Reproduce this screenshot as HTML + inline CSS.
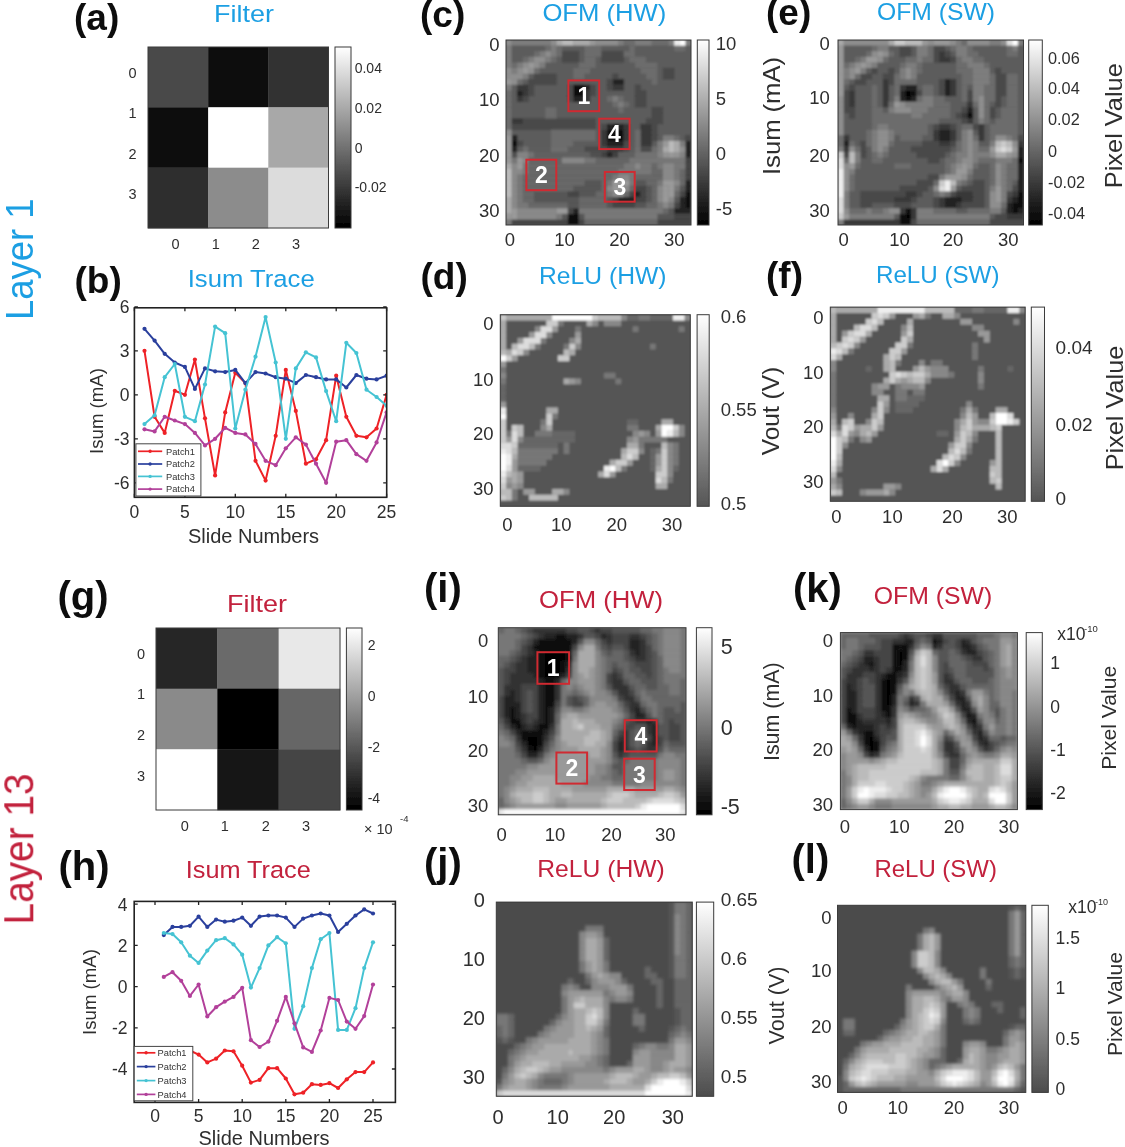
<!DOCTYPE html><html><head><meta charset="utf-8"><title>Figure</title><style>html,body{margin:0;padding:0;background:#fff}svg{display:block}text{font-family:"Liberation Sans",sans-serif}</style></head><body>
<svg width="1125" height="1147" viewBox="0 0 1125 1147">
<rect width="1125" height="1147" fill="#fff"/>
<g filter="url(#soft)">
<filter id="soft" x="0" y="0" width="1125" height="1147" filterUnits="userSpaceOnUse"><feGaussianBlur stdDeviation="0.45"/></filter>
<text x="32.5" y="320" font-size="39.5" fill="#1c9fe3" transform="rotate(-90 32.5 320)" textLength="121.5" lengthAdjust="spacingAndGlyphs">Layer 1</text>
<text x="32.8" y="924.5" font-size="43" fill="#c2203c" transform="rotate(-90 32.8 924.5)" textLength="151" lengthAdjust="spacingAndGlyphs">Layer 13</text>
<text x="74" y="30" font-size="37" fill="#111" font-weight="bold">(a)</text>
<text x="74.5" y="293" font-size="37" fill="#111" font-weight="bold">(b)</text>
<text x="420" y="26.5" font-size="37" fill="#111" font-weight="bold">(c)</text>
<text x="420.5" y="289" font-size="37" fill="#111" font-weight="bold">(d)</text>
<text x="766" y="25" font-size="37" fill="#111" font-weight="bold">(e)</text>
<text x="766" y="287.5" font-size="37" fill="#111" font-weight="bold">(f)</text>
<text x="57.5" y="610" font-size="40" fill="#111" font-weight="bold">(g)</text>
<text x="58.5" y="879.5" font-size="40" fill="#111" font-weight="bold">(h)</text>
<text x="424" y="602" font-size="40" fill="#111" font-weight="bold">(i)</text>
<text x="424" y="877" font-size="40" fill="#111" font-weight="bold">(j)</text>
<text x="793" y="602" font-size="40" fill="#111" font-weight="bold">(k)</text>
<text x="791.5" y="873" font-size="40" fill="#111" font-weight="bold">(l)</text>
<text x="244" y="21.7" font-size="24.5" fill="#1c9fe3" text-anchor="middle" textLength="60" lengthAdjust="spacingAndGlyphs">Filter</text>
<text x="251.2" y="286.6" font-size="24.5" fill="#1c9fe3" text-anchor="middle" textLength="127" lengthAdjust="spacingAndGlyphs">Isum Trace</text>
<text x="604.4" y="21" font-size="24.5" fill="#1c9fe3" text-anchor="middle" textLength="124" lengthAdjust="spacingAndGlyphs">OFM (HW)</text>
<text x="602.8" y="283.5" font-size="24.5" fill="#1c9fe3" text-anchor="middle" textLength="127.5" lengthAdjust="spacingAndGlyphs">ReLU (HW)</text>
<text x="936" y="20.3" font-size="24.5" fill="#1c9fe3" text-anchor="middle" textLength="118" lengthAdjust="spacingAndGlyphs">OFM (SW)</text>
<text x="937.7" y="283.3" font-size="24.5" fill="#1c9fe3" text-anchor="middle" textLength="123.5" lengthAdjust="spacingAndGlyphs">ReLU (SW)</text>
<text x="257" y="612.3" font-size="24.5" fill="#c2203c" text-anchor="middle" textLength="60" lengthAdjust="spacingAndGlyphs">Filter</text>
<text x="248.3" y="877.8" font-size="24.5" fill="#c2203c" text-anchor="middle" textLength="125" lengthAdjust="spacingAndGlyphs">Isum Trace</text>
<text x="601" y="607.5" font-size="24.5" fill="#c2203c" text-anchor="middle" textLength="124" lengthAdjust="spacingAndGlyphs">OFM (HW)</text>
<text x="601" y="877.4" font-size="24.5" fill="#c2203c" text-anchor="middle" textLength="127.5" lengthAdjust="spacingAndGlyphs">ReLU (HW)</text>
<text x="933" y="604.2" font-size="24.5" fill="#c2203c" text-anchor="middle" textLength="118.5" lengthAdjust="spacingAndGlyphs">OFM (SW)</text>
<text x="935.7" y="877.2" font-size="24.5" fill="#c2203c" text-anchor="middle" textLength="122.5" lengthAdjust="spacingAndGlyphs">ReLU (SW)</text>
<rect x="148.0" y="47.0" width="60.5" height="60.6" fill="#4a4a4a"/>
<rect x="208.2" y="47.0" width="60.5" height="60.6" fill="#0c0c0c"/>
<rect x="268.3" y="47.0" width="60.5" height="60.6" fill="#303030"/>
<rect x="148.0" y="107.3" width="60.5" height="60.6" fill="#0a0a0a"/>
<rect x="208.2" y="107.3" width="60.5" height="60.6" fill="#ffffff"/>
<rect x="268.3" y="107.3" width="60.5" height="60.6" fill="#a8a8a8"/>
<rect x="148.0" y="167.7" width="60.5" height="60.6" fill="#2d2d2d"/>
<rect x="208.2" y="167.7" width="60.5" height="60.6" fill="#8c8c8c"/>
<rect x="268.3" y="167.7" width="60.5" height="60.6" fill="#dcdcdc"/>
<rect x="148" y="47" width="180.5" height="181" fill="none" stroke="#3a3a3a" stroke-width="1"/>
<linearGradient id="ga" x1="0" y1="1" x2="0" y2="0"><stop offset="0" stop-color="#000"/><stop offset="1" stop-color="#fff"/></linearGradient>
<rect x="335" y="47" width="16" height="181" fill="url(#ga)" stroke="#3a3a3a" stroke-width="1"/>
<text x="132.5" y="78.0" font-size="14.5" fill="#2e2e2e" text-anchor="middle">0</text>
<text x="132.5" y="118.3" font-size="14.5" fill="#2e2e2e" text-anchor="middle">1</text>
<text x="132.5" y="158.6" font-size="14.5" fill="#2e2e2e" text-anchor="middle">2</text>
<text x="132.5" y="199.0" font-size="14.5" fill="#2e2e2e" text-anchor="middle">3</text>
<text x="175.5" y="248.6" font-size="14.5" fill="#2e2e2e" text-anchor="middle">0</text>
<text x="215.8" y="248.6" font-size="14.5" fill="#2e2e2e" text-anchor="middle">1</text>
<text x="255.7" y="248.6" font-size="14.5" fill="#2e2e2e" text-anchor="middle">2</text>
<text x="296" y="248.6" font-size="14.5" fill="#2e2e2e" text-anchor="middle">3</text>
<text x="354.7" y="73.3" font-size="14" fill="#2e2e2e">0.04</text>
<text x="354.7" y="112.5" font-size="14" fill="#2e2e2e">0.02</text>
<text x="354.7" y="152.5" font-size="14" fill="#2e2e2e">0</text>
<text x="354.7" y="192.4" font-size="14" fill="#2e2e2e">-0.02</text>
<rect x="156.0" y="628.0" width="61.6" height="61.0" fill="#262626"/>
<rect x="217.3" y="628.0" width="61.6" height="61.0" fill="#6a6a6a"/>
<rect x="278.7" y="628.0" width="61.6" height="61.0" fill="#e8e8e8"/>
<rect x="156.0" y="688.7" width="61.6" height="61.0" fill="#8a8a8a"/>
<rect x="217.3" y="688.7" width="61.6" height="61.0" fill="#050505"/>
<rect x="278.7" y="688.7" width="61.6" height="61.0" fill="#666666"/>
<rect x="156.0" y="749.3" width="61.6" height="61.0" fill="#ffffff"/>
<rect x="217.3" y="749.3" width="61.6" height="61.0" fill="#161616"/>
<rect x="278.7" y="749.3" width="61.6" height="61.0" fill="#444444"/>
<rect x="156" y="628" width="184" height="182" fill="none" stroke="#3a3a3a" stroke-width="1"/>
<linearGradient id="gg" x1="0" y1="1" x2="0" y2="0"><stop offset="0" stop-color="#000"/><stop offset="1" stop-color="#fff"/></linearGradient>
<rect x="346.4" y="628" width="15.600000000000023" height="182" fill="url(#gg)" stroke="#3a3a3a" stroke-width="1"/>
<text x="141.1" y="658.5" font-size="14.5" fill="#2e2e2e" text-anchor="middle">0</text>
<text x="141.1" y="698.9" font-size="14.5" fill="#2e2e2e" text-anchor="middle">1</text>
<text x="141.1" y="739.9" font-size="14.5" fill="#2e2e2e" text-anchor="middle">2</text>
<text x="141.1" y="781.0" font-size="14.5" fill="#2e2e2e" text-anchor="middle">3</text>
<text x="184.8" y="831.4" font-size="14.5" fill="#2e2e2e" text-anchor="middle">0</text>
<text x="224.7" y="831.4" font-size="14.5" fill="#2e2e2e" text-anchor="middle">1</text>
<text x="265.8" y="831.4" font-size="14.5" fill="#2e2e2e" text-anchor="middle">2</text>
<text x="306.1" y="831.4" font-size="14.5" fill="#2e2e2e" text-anchor="middle">3</text>
<text x="367.7" y="650.1" font-size="14" fill="#2e2e2e">2</text>
<text x="367.7" y="701.3" font-size="14" fill="#2e2e2e">0</text>
<text x="367.7" y="751.7" font-size="14" fill="#2e2e2e">-2</text>
<text x="367.7" y="802.8" font-size="14" fill="#2e2e2e">-4</text>
<text x="364" y="834" font-size="14.5" fill="#2e2e2e">× 10</text>
<text x="400" y="822" font-size="9.5" fill="#2e2e2e">-4</text>
<rect x="134.4" y="307.8" width="252.29999999999998" height="189.5" fill="#fff" stroke="none"/>
<svg x="134.4" y="307.8" width="252.29999999999998" height="189.5" viewBox="134.4 307.8 252.29999999999998 189.5" overflow="hidden">
<polyline points="144.5,350.8 154.6,416.8 164.7,432.9 174.8,390.8 184.9,394.8 194.9,359.6 205.0,418.3 215.1,475.4 225.2,412.4 235.3,372.8 245.4,383.1 255.5,460.8 265.6,480.6 275.7,435.8 285.8,369.9 295.8,410.9 305.9,463.7 316.0,459.3 326.1,440.2 336.2,375.7 346.3,416.8 356.4,435.8 366.5,437.3 376.6,428.5 386.6,394.8" fill="none" stroke="#ee2026" stroke-width="2" stroke-linejoin="round"/>
<circle cx="144.5" cy="350.8" r="2.1" fill="#ee2026"/>
<circle cx="154.6" cy="416.8" r="2.1" fill="#ee2026"/>
<circle cx="164.7" cy="432.9" r="2.1" fill="#ee2026"/>
<circle cx="174.8" cy="390.8" r="2.1" fill="#ee2026"/>
<circle cx="184.9" cy="394.8" r="2.1" fill="#ee2026"/>
<circle cx="194.9" cy="359.6" r="2.1" fill="#ee2026"/>
<circle cx="205.0" cy="418.3" r="2.1" fill="#ee2026"/>
<circle cx="215.1" cy="475.4" r="2.1" fill="#ee2026"/>
<circle cx="225.2" cy="412.4" r="2.1" fill="#ee2026"/>
<circle cx="235.3" cy="372.8" r="2.1" fill="#ee2026"/>
<circle cx="245.4" cy="383.1" r="2.1" fill="#ee2026"/>
<circle cx="255.5" cy="460.8" r="2.1" fill="#ee2026"/>
<circle cx="265.6" cy="480.6" r="2.1" fill="#ee2026"/>
<circle cx="275.7" cy="435.8" r="2.1" fill="#ee2026"/>
<circle cx="285.8" cy="369.9" r="2.1" fill="#ee2026"/>
<circle cx="295.8" cy="410.9" r="2.1" fill="#ee2026"/>
<circle cx="305.9" cy="463.7" r="2.1" fill="#ee2026"/>
<circle cx="316.0" cy="459.3" r="2.1" fill="#ee2026"/>
<circle cx="326.1" cy="440.2" r="2.1" fill="#ee2026"/>
<circle cx="336.2" cy="375.7" r="2.1" fill="#ee2026"/>
<circle cx="346.3" cy="416.8" r="2.1" fill="#ee2026"/>
<circle cx="356.4" cy="435.8" r="2.1" fill="#ee2026"/>
<circle cx="366.5" cy="437.3" r="2.1" fill="#ee2026"/>
<circle cx="376.6" cy="428.5" r="2.1" fill="#ee2026"/>
<circle cx="386.6" cy="394.8" r="2.1" fill="#ee2026"/>
<polyline points="144.5,328.8 154.6,340.6 164.7,353.8 174.8,362.5 184.9,366.9 194.9,388.9 205.0,368.4 215.1,371.3 225.2,372.1 235.3,369.9 245.4,383.1 255.5,372.1 265.6,373.5 275.7,377.2 285.8,378.7 295.8,383.1 305.9,375.0 316.0,377.2 326.1,379.4 336.2,379.4 346.3,387.5 356.4,375.0 366.5,378.7 376.6,379.4 386.6,375.7" fill="none" stroke="#2a3f9d" stroke-width="2" stroke-linejoin="round"/>
<circle cx="144.5" cy="328.8" r="2.1" fill="#2a3f9d"/>
<circle cx="154.6" cy="340.6" r="2.1" fill="#2a3f9d"/>
<circle cx="164.7" cy="353.8" r="2.1" fill="#2a3f9d"/>
<circle cx="174.8" cy="362.5" r="2.1" fill="#2a3f9d"/>
<circle cx="184.9" cy="366.9" r="2.1" fill="#2a3f9d"/>
<circle cx="194.9" cy="388.9" r="2.1" fill="#2a3f9d"/>
<circle cx="205.0" cy="368.4" r="2.1" fill="#2a3f9d"/>
<circle cx="215.1" cy="371.3" r="2.1" fill="#2a3f9d"/>
<circle cx="225.2" cy="372.1" r="2.1" fill="#2a3f9d"/>
<circle cx="235.3" cy="369.9" r="2.1" fill="#2a3f9d"/>
<circle cx="245.4" cy="383.1" r="2.1" fill="#2a3f9d"/>
<circle cx="255.5" cy="372.1" r="2.1" fill="#2a3f9d"/>
<circle cx="265.6" cy="373.5" r="2.1" fill="#2a3f9d"/>
<circle cx="275.7" cy="377.2" r="2.1" fill="#2a3f9d"/>
<circle cx="285.8" cy="378.7" r="2.1" fill="#2a3f9d"/>
<circle cx="295.8" cy="383.1" r="2.1" fill="#2a3f9d"/>
<circle cx="305.9" cy="375.0" r="2.1" fill="#2a3f9d"/>
<circle cx="316.0" cy="377.2" r="2.1" fill="#2a3f9d"/>
<circle cx="326.1" cy="379.4" r="2.1" fill="#2a3f9d"/>
<circle cx="336.2" cy="379.4" r="2.1" fill="#2a3f9d"/>
<circle cx="346.3" cy="387.5" r="2.1" fill="#2a3f9d"/>
<circle cx="356.4" cy="375.0" r="2.1" fill="#2a3f9d"/>
<circle cx="366.5" cy="378.7" r="2.1" fill="#2a3f9d"/>
<circle cx="376.6" cy="379.4" r="2.1" fill="#2a3f9d"/>
<circle cx="386.6" cy="375.7" r="2.1" fill="#2a3f9d"/>
<polyline points="144.5,424.1 154.6,415.3 164.7,377.2 174.8,364.0 184.9,416.8 194.9,421.2 205.0,384.5 215.1,326.6 225.2,333.2 235.3,428.5 245.4,389.7 255.5,356.7 265.6,317.1 275.7,362.5 285.8,438.8 295.8,368.4 305.9,352.3 316.0,357.4 326.1,391.1 336.2,421.2 346.3,342.8 356.4,353.0 366.5,389.7 376.6,397.0 386.6,405.8" fill="none" stroke="#45c3d3" stroke-width="2" stroke-linejoin="round"/>
<circle cx="144.5" cy="424.1" r="2.1" fill="#45c3d3"/>
<circle cx="154.6" cy="415.3" r="2.1" fill="#45c3d3"/>
<circle cx="164.7" cy="377.2" r="2.1" fill="#45c3d3"/>
<circle cx="174.8" cy="364.0" r="2.1" fill="#45c3d3"/>
<circle cx="184.9" cy="416.8" r="2.1" fill="#45c3d3"/>
<circle cx="194.9" cy="421.2" r="2.1" fill="#45c3d3"/>
<circle cx="205.0" cy="384.5" r="2.1" fill="#45c3d3"/>
<circle cx="215.1" cy="326.6" r="2.1" fill="#45c3d3"/>
<circle cx="225.2" cy="333.2" r="2.1" fill="#45c3d3"/>
<circle cx="235.3" cy="428.5" r="2.1" fill="#45c3d3"/>
<circle cx="245.4" cy="389.7" r="2.1" fill="#45c3d3"/>
<circle cx="255.5" cy="356.7" r="2.1" fill="#45c3d3"/>
<circle cx="265.6" cy="317.1" r="2.1" fill="#45c3d3"/>
<circle cx="275.7" cy="362.5" r="2.1" fill="#45c3d3"/>
<circle cx="285.8" cy="438.8" r="2.1" fill="#45c3d3"/>
<circle cx="295.8" cy="368.4" r="2.1" fill="#45c3d3"/>
<circle cx="305.9" cy="352.3" r="2.1" fill="#45c3d3"/>
<circle cx="316.0" cy="357.4" r="2.1" fill="#45c3d3"/>
<circle cx="326.1" cy="391.1" r="2.1" fill="#45c3d3"/>
<circle cx="336.2" cy="421.2" r="2.1" fill="#45c3d3"/>
<circle cx="346.3" cy="342.8" r="2.1" fill="#45c3d3"/>
<circle cx="356.4" cy="353.0" r="2.1" fill="#45c3d3"/>
<circle cx="366.5" cy="389.7" r="2.1" fill="#45c3d3"/>
<circle cx="376.6" cy="397.0" r="2.1" fill="#45c3d3"/>
<circle cx="386.6" cy="405.8" r="2.1" fill="#45c3d3"/>
<polyline points="144.5,429.3 154.6,431.4 164.7,416.8 174.8,420.5 184.9,424.1 194.9,432.9 205.0,445.4 215.1,438.8 225.2,427.8 235.3,432.9 245.4,434.4 255.5,443.9 265.6,460.8 275.7,465.2 285.8,448.3 295.8,437.3 305.9,444.6 316.0,463.7 326.1,482.8 336.2,441.7 346.3,440.2 356.4,454.2 366.5,460.8 376.6,442.4 386.6,412.4" fill="none" stroke="#b2409a" stroke-width="2" stroke-linejoin="round"/>
<circle cx="144.5" cy="429.3" r="2.1" fill="#b2409a"/>
<circle cx="154.6" cy="431.4" r="2.1" fill="#b2409a"/>
<circle cx="164.7" cy="416.8" r="2.1" fill="#b2409a"/>
<circle cx="174.8" cy="420.5" r="2.1" fill="#b2409a"/>
<circle cx="184.9" cy="424.1" r="2.1" fill="#b2409a"/>
<circle cx="194.9" cy="432.9" r="2.1" fill="#b2409a"/>
<circle cx="205.0" cy="445.4" r="2.1" fill="#b2409a"/>
<circle cx="215.1" cy="438.8" r="2.1" fill="#b2409a"/>
<circle cx="225.2" cy="427.8" r="2.1" fill="#b2409a"/>
<circle cx="235.3" cy="432.9" r="2.1" fill="#b2409a"/>
<circle cx="245.4" cy="434.4" r="2.1" fill="#b2409a"/>
<circle cx="255.5" cy="443.9" r="2.1" fill="#b2409a"/>
<circle cx="265.6" cy="460.8" r="2.1" fill="#b2409a"/>
<circle cx="275.7" cy="465.2" r="2.1" fill="#b2409a"/>
<circle cx="285.8" cy="448.3" r="2.1" fill="#b2409a"/>
<circle cx="295.8" cy="437.3" r="2.1" fill="#b2409a"/>
<circle cx="305.9" cy="444.6" r="2.1" fill="#b2409a"/>
<circle cx="316.0" cy="463.7" r="2.1" fill="#b2409a"/>
<circle cx="326.1" cy="482.8" r="2.1" fill="#b2409a"/>
<circle cx="336.2" cy="441.7" r="2.1" fill="#b2409a"/>
<circle cx="346.3" cy="440.2" r="2.1" fill="#b2409a"/>
<circle cx="356.4" cy="454.2" r="2.1" fill="#b2409a"/>
<circle cx="366.5" cy="460.8" r="2.1" fill="#b2409a"/>
<circle cx="376.6" cy="442.4" r="2.1" fill="#b2409a"/>
<circle cx="386.6" cy="412.4" r="2.1" fill="#b2409a"/>
</svg>
<path d="M134.4 497.3v-3.5M134.4 307.8v3.5" stroke="#222" stroke-width="1.3"/>
<text x="134.4" y="518.3" font-size="17.5" fill="#2e2e2e" text-anchor="middle">0</text>
<path d="M184.9 497.3v-3.5M184.9 307.8v3.5" stroke="#222" stroke-width="1.3"/>
<text x="184.9" y="518.3" font-size="17.5" fill="#2e2e2e" text-anchor="middle">5</text>
<path d="M235.3 497.3v-3.5M235.3 307.8v3.5" stroke="#222" stroke-width="1.3"/>
<text x="235.3" y="518.3" font-size="17.5" fill="#2e2e2e" text-anchor="middle">10</text>
<path d="M285.8 497.3v-3.5M285.8 307.8v3.5" stroke="#222" stroke-width="1.3"/>
<text x="285.8" y="518.3" font-size="17.5" fill="#2e2e2e" text-anchor="middle">15</text>
<path d="M336.2 497.3v-3.5M336.2 307.8v3.5" stroke="#222" stroke-width="1.3"/>
<text x="336.2" y="518.3" font-size="17.5" fill="#2e2e2e" text-anchor="middle">20</text>
<path d="M386.6 497.3v-3.5M386.6 307.8v3.5" stroke="#222" stroke-width="1.3"/>
<text x="386.6" y="518.3" font-size="17.5" fill="#2e2e2e" text-anchor="middle">25</text>
<path d="M134.4 306.8h3.5M386.7 306.8h-3.5" stroke="#222" stroke-width="1.3"/>
<text x="129.5" y="313.1" font-size="17.5" fill="#2e2e2e" text-anchor="end">6</text>
<path d="M134.4 350.8h3.5M386.7 350.8h-3.5" stroke="#222" stroke-width="1.3"/>
<text x="129.5" y="357.1" font-size="17.5" fill="#2e2e2e" text-anchor="end">3</text>
<path d="M134.4 394.8h3.5M386.7 394.8h-3.5" stroke="#222" stroke-width="1.3"/>
<text x="129.5" y="401.1" font-size="17.5" fill="#2e2e2e" text-anchor="end">0</text>
<path d="M134.4 438.8h3.5M386.7 438.8h-3.5" stroke="#222" stroke-width="1.3"/>
<text x="129.5" y="445.1" font-size="17.5" fill="#2e2e2e" text-anchor="end">-3</text>
<path d="M134.4 482.8h3.5M386.7 482.8h-3.5" stroke="#222" stroke-width="1.3"/>
<text x="129.5" y="489.1" font-size="17.5" fill="#2e2e2e" text-anchor="end">-6</text>
<rect x="134.4" y="307.8" width="252.29999999999998" height="189.5" fill="none" stroke="#222" stroke-width="1.6"/>
<rect x="135.9" y="443.8" width="65.0" height="52.19999999999999" fill="#fff" stroke="#444" stroke-width="1"/>
<path d="M138 451.3H162.2" stroke="#ee2026" stroke-width="1.7"/><circle cx="150.1" cy="451.3" r="1.7" fill="#ee2026"/>
<text x="166" y="454.6" font-size="9.3" fill="#333">Patch1</text>
<path d="M138 464H162.2" stroke="#2a3f9d" stroke-width="1.7"/><circle cx="150.1" cy="464" r="1.7" fill="#2a3f9d"/>
<text x="166" y="467.3" font-size="9.3" fill="#333">Patch2</text>
<path d="M138 476.4H162.2" stroke="#45c3d3" stroke-width="1.7"/><circle cx="150.1" cy="476.4" r="1.7" fill="#45c3d3"/>
<text x="166" y="479.7" font-size="9.3" fill="#333">Patch3</text>
<path d="M138 489.1H162.2" stroke="#b2409a" stroke-width="1.7"/><circle cx="150.1" cy="489.1" r="1.7" fill="#b2409a"/>
<text x="166" y="492.4" font-size="9.3" fill="#333">Patch4</text>
<text x="253.5" y="543" font-size="20" fill="#2e2e2e" text-anchor="middle">Slide Numbers</text>
<text x="103" y="411" font-size="18.6" fill="#2e2e2e" text-anchor="middle" transform="rotate(-90 103 411)">Isum (mA)</text>
<rect x="134.2" y="901.4" width="261.2" height="201.0000000000001" fill="#fff" stroke="none"/>
<svg x="134.2" y="901.4" width="261.2" height="201.0000000000001" viewBox="134.2 901.4 261.2 201.0000000000001" overflow="hidden">
<polyline points="163.8,1054.6 172.5,1048.4 181.2,1052.5 189.9,1050.5 198.6,1054.6 207.3,1062.4 216.1,1058.7 224.8,1050.5 233.5,1051.3 242.2,1065.7 250.9,1082.6 259.6,1079.9 268.4,1068.2 277.1,1068.2 285.8,1078.5 294.5,1094.3 303.2,1092.7 311.9,1084.2 320.7,1084.9 329.4,1083.2 338.1,1088.0 346.8,1079.3 355.5,1072.1 364.2,1072.1 373.0,1062.4" fill="none" stroke="#ee2026" stroke-width="2" stroke-linejoin="round"/>
<circle cx="163.8" cy="1054.6" r="2.1" fill="#ee2026"/>
<circle cx="172.5" cy="1048.4" r="2.1" fill="#ee2026"/>
<circle cx="181.2" cy="1052.5" r="2.1" fill="#ee2026"/>
<circle cx="189.9" cy="1050.5" r="2.1" fill="#ee2026"/>
<circle cx="198.6" cy="1054.6" r="2.1" fill="#ee2026"/>
<circle cx="207.3" cy="1062.4" r="2.1" fill="#ee2026"/>
<circle cx="216.1" cy="1058.7" r="2.1" fill="#ee2026"/>
<circle cx="224.8" cy="1050.5" r="2.1" fill="#ee2026"/>
<circle cx="233.5" cy="1051.3" r="2.1" fill="#ee2026"/>
<circle cx="242.2" cy="1065.7" r="2.1" fill="#ee2026"/>
<circle cx="250.9" cy="1082.6" r="2.1" fill="#ee2026"/>
<circle cx="259.6" cy="1079.9" r="2.1" fill="#ee2026"/>
<circle cx="268.4" cy="1068.2" r="2.1" fill="#ee2026"/>
<circle cx="277.1" cy="1068.2" r="2.1" fill="#ee2026"/>
<circle cx="285.8" cy="1078.5" r="2.1" fill="#ee2026"/>
<circle cx="294.5" cy="1094.3" r="2.1" fill="#ee2026"/>
<circle cx="303.2" cy="1092.7" r="2.1" fill="#ee2026"/>
<circle cx="311.9" cy="1084.2" r="2.1" fill="#ee2026"/>
<circle cx="320.7" cy="1084.9" r="2.1" fill="#ee2026"/>
<circle cx="329.4" cy="1083.2" r="2.1" fill="#ee2026"/>
<circle cx="338.1" cy="1088.0" r="2.1" fill="#ee2026"/>
<circle cx="346.8" cy="1079.3" r="2.1" fill="#ee2026"/>
<circle cx="355.5" cy="1072.1" r="2.1" fill="#ee2026"/>
<circle cx="364.2" cy="1072.1" r="2.1" fill="#ee2026"/>
<circle cx="373.0" cy="1062.4" r="2.1" fill="#ee2026"/>
<polyline points="163.8,935.1 172.5,926.9 181.2,926.9 189.9,925.8 198.6,916.6 207.3,926.9 216.1,919.6 224.8,921.7 233.5,920.7 242.2,917.6 250.9,925.8 259.6,916.6 268.4,915.5 277.1,915.5 285.8,917.6 294.5,926.9 303.2,918.6 311.9,915.5 320.7,913.5 329.4,915.5 338.1,932.0 346.8,923.8 355.5,915.5 364.2,909.4 373.0,913.5" fill="none" stroke="#2a3f9d" stroke-width="2" stroke-linejoin="round"/>
<circle cx="163.8" cy="935.1" r="2.1" fill="#2a3f9d"/>
<circle cx="172.5" cy="926.9" r="2.1" fill="#2a3f9d"/>
<circle cx="181.2" cy="926.9" r="2.1" fill="#2a3f9d"/>
<circle cx="189.9" cy="925.8" r="2.1" fill="#2a3f9d"/>
<circle cx="198.6" cy="916.6" r="2.1" fill="#2a3f9d"/>
<circle cx="207.3" cy="926.9" r="2.1" fill="#2a3f9d"/>
<circle cx="216.1" cy="919.6" r="2.1" fill="#2a3f9d"/>
<circle cx="224.8" cy="921.7" r="2.1" fill="#2a3f9d"/>
<circle cx="233.5" cy="920.7" r="2.1" fill="#2a3f9d"/>
<circle cx="242.2" cy="917.6" r="2.1" fill="#2a3f9d"/>
<circle cx="250.9" cy="925.8" r="2.1" fill="#2a3f9d"/>
<circle cx="259.6" cy="916.6" r="2.1" fill="#2a3f9d"/>
<circle cx="268.4" cy="915.5" r="2.1" fill="#2a3f9d"/>
<circle cx="277.1" cy="915.5" r="2.1" fill="#2a3f9d"/>
<circle cx="285.8" cy="917.6" r="2.1" fill="#2a3f9d"/>
<circle cx="294.5" cy="926.9" r="2.1" fill="#2a3f9d"/>
<circle cx="303.2" cy="918.6" r="2.1" fill="#2a3f9d"/>
<circle cx="311.9" cy="915.5" r="2.1" fill="#2a3f9d"/>
<circle cx="320.7" cy="913.5" r="2.1" fill="#2a3f9d"/>
<circle cx="329.4" cy="915.5" r="2.1" fill="#2a3f9d"/>
<circle cx="338.1" cy="932.0" r="2.1" fill="#2a3f9d"/>
<circle cx="346.8" cy="923.8" r="2.1" fill="#2a3f9d"/>
<circle cx="355.5" cy="915.5" r="2.1" fill="#2a3f9d"/>
<circle cx="364.2" cy="909.4" r="2.1" fill="#2a3f9d"/>
<circle cx="373.0" cy="913.5" r="2.1" fill="#2a3f9d"/>
<polyline points="163.8,933.0 172.5,934.1 181.2,942.3 189.9,955.7 198.6,962.9 207.3,950.6 216.1,940.2 224.8,938.2 233.5,944.4 242.2,954.7 250.9,987.6 259.6,968.1 268.4,945.4 277.1,937.2 285.8,943.3 294.5,1028.8 303.2,1006.2 311.9,968.1 320.7,939.2 329.4,933.0 338.1,1029.9 346.8,1029.9 355.5,1008.2 364.2,968.1 373.0,942.3" fill="none" stroke="#45c3d3" stroke-width="2" stroke-linejoin="round"/>
<circle cx="163.8" cy="933.0" r="2.1" fill="#45c3d3"/>
<circle cx="172.5" cy="934.1" r="2.1" fill="#45c3d3"/>
<circle cx="181.2" cy="942.3" r="2.1" fill="#45c3d3"/>
<circle cx="189.9" cy="955.7" r="2.1" fill="#45c3d3"/>
<circle cx="198.6" cy="962.9" r="2.1" fill="#45c3d3"/>
<circle cx="207.3" cy="950.6" r="2.1" fill="#45c3d3"/>
<circle cx="216.1" cy="940.2" r="2.1" fill="#45c3d3"/>
<circle cx="224.8" cy="938.2" r="2.1" fill="#45c3d3"/>
<circle cx="233.5" cy="944.4" r="2.1" fill="#45c3d3"/>
<circle cx="242.2" cy="954.7" r="2.1" fill="#45c3d3"/>
<circle cx="250.9" cy="987.6" r="2.1" fill="#45c3d3"/>
<circle cx="259.6" cy="968.1" r="2.1" fill="#45c3d3"/>
<circle cx="268.4" cy="945.4" r="2.1" fill="#45c3d3"/>
<circle cx="277.1" cy="937.2" r="2.1" fill="#45c3d3"/>
<circle cx="285.8" cy="943.3" r="2.1" fill="#45c3d3"/>
<circle cx="294.5" cy="1028.8" r="2.1" fill="#45c3d3"/>
<circle cx="303.2" cy="1006.2" r="2.1" fill="#45c3d3"/>
<circle cx="311.9" cy="968.1" r="2.1" fill="#45c3d3"/>
<circle cx="320.7" cy="939.2" r="2.1" fill="#45c3d3"/>
<circle cx="329.4" cy="933.0" r="2.1" fill="#45c3d3"/>
<circle cx="338.1" cy="1029.9" r="2.1" fill="#45c3d3"/>
<circle cx="346.8" cy="1029.9" r="2.1" fill="#45c3d3"/>
<circle cx="355.5" cy="1008.2" r="2.1" fill="#45c3d3"/>
<circle cx="364.2" cy="968.1" r="2.1" fill="#45c3d3"/>
<circle cx="373.0" cy="942.3" r="2.1" fill="#45c3d3"/>
<polyline points="163.8,976.9 172.5,972.2 181.2,980.8 189.9,995.9 198.6,984.5 207.3,1016.5 216.1,1007.2 224.8,1001.6 233.5,996.9 242.2,987.8 250.9,1040.2 259.6,1047.0 268.4,1041.6 277.1,1020.8 285.8,996.9 294.5,1023.3 303.2,1047.4 311.9,1051.9 320.7,1030.5 329.4,997.9 338.1,1000.0 346.8,1021.6 355.5,1028.8 364.2,1016.1 373.0,984.5" fill="none" stroke="#b2409a" stroke-width="2" stroke-linejoin="round"/>
<circle cx="163.8" cy="976.9" r="2.1" fill="#b2409a"/>
<circle cx="172.5" cy="972.2" r="2.1" fill="#b2409a"/>
<circle cx="181.2" cy="980.8" r="2.1" fill="#b2409a"/>
<circle cx="189.9" cy="995.9" r="2.1" fill="#b2409a"/>
<circle cx="198.6" cy="984.5" r="2.1" fill="#b2409a"/>
<circle cx="207.3" cy="1016.5" r="2.1" fill="#b2409a"/>
<circle cx="216.1" cy="1007.2" r="2.1" fill="#b2409a"/>
<circle cx="224.8" cy="1001.6" r="2.1" fill="#b2409a"/>
<circle cx="233.5" cy="996.9" r="2.1" fill="#b2409a"/>
<circle cx="242.2" cy="987.8" r="2.1" fill="#b2409a"/>
<circle cx="250.9" cy="1040.2" r="2.1" fill="#b2409a"/>
<circle cx="259.6" cy="1047.0" r="2.1" fill="#b2409a"/>
<circle cx="268.4" cy="1041.6" r="2.1" fill="#b2409a"/>
<circle cx="277.1" cy="1020.8" r="2.1" fill="#b2409a"/>
<circle cx="285.8" cy="996.9" r="2.1" fill="#b2409a"/>
<circle cx="294.5" cy="1023.3" r="2.1" fill="#b2409a"/>
<circle cx="303.2" cy="1047.4" r="2.1" fill="#b2409a"/>
<circle cx="311.9" cy="1051.9" r="2.1" fill="#b2409a"/>
<circle cx="320.7" cy="1030.5" r="2.1" fill="#b2409a"/>
<circle cx="329.4" cy="997.9" r="2.1" fill="#b2409a"/>
<circle cx="338.1" cy="1000.0" r="2.1" fill="#b2409a"/>
<circle cx="346.8" cy="1021.6" r="2.1" fill="#b2409a"/>
<circle cx="355.5" cy="1028.8" r="2.1" fill="#b2409a"/>
<circle cx="364.2" cy="1016.1" r="2.1" fill="#b2409a"/>
<circle cx="373.0" cy="984.5" r="2.1" fill="#b2409a"/>
</svg>
<path d="M155.0 1102.4v-3.5M155.0 901.4v3.5" stroke="#222" stroke-width="1.3"/>
<text x="155.0" y="1122.3" font-size="17.5" fill="#2e2e2e" text-anchor="middle">0</text>
<path d="M198.6 1102.4v-3.5M198.6 901.4v3.5" stroke="#222" stroke-width="1.3"/>
<text x="198.6" y="1122.3" font-size="17.5" fill="#2e2e2e" text-anchor="middle">5</text>
<path d="M242.2 1102.4v-3.5M242.2 901.4v3.5" stroke="#222" stroke-width="1.3"/>
<text x="242.2" y="1122.3" font-size="17.5" fill="#2e2e2e" text-anchor="middle">10</text>
<path d="M285.8 1102.4v-3.5M285.8 901.4v3.5" stroke="#222" stroke-width="1.3"/>
<text x="285.8" y="1122.3" font-size="17.5" fill="#2e2e2e" text-anchor="middle">15</text>
<path d="M329.4 1102.4v-3.5M329.4 901.4v3.5" stroke="#222" stroke-width="1.3"/>
<text x="329.4" y="1122.3" font-size="17.5" fill="#2e2e2e" text-anchor="middle">20</text>
<path d="M373.0 1102.4v-3.5M373.0 901.4v3.5" stroke="#222" stroke-width="1.3"/>
<text x="373.0" y="1122.3" font-size="17.5" fill="#2e2e2e" text-anchor="middle">25</text>
<path d="M134.2 904.2h3.5M395.4 904.2h-3.5" stroke="#222" stroke-width="1.3"/>
<text x="127.5" y="910.5" font-size="17.5" fill="#2e2e2e" text-anchor="end">4</text>
<path d="M134.2 945.4h3.5M395.4 945.4h-3.5" stroke="#222" stroke-width="1.3"/>
<text x="127.5" y="951.7" font-size="17.5" fill="#2e2e2e" text-anchor="end">2</text>
<path d="M134.2 986.6h3.5M395.4 986.6h-3.5" stroke="#222" stroke-width="1.3"/>
<text x="127.5" y="992.9" font-size="17.5" fill="#2e2e2e" text-anchor="end">0</text>
<path d="M134.2 1027.8h3.5M395.4 1027.8h-3.5" stroke="#222" stroke-width="1.3"/>
<text x="127.5" y="1034.1" font-size="17.5" fill="#2e2e2e" text-anchor="end">-2</text>
<path d="M134.2 1069.0h3.5M395.4 1069.0h-3.5" stroke="#222" stroke-width="1.3"/>
<text x="127.5" y="1075.3" font-size="17.5" fill="#2e2e2e" text-anchor="end">-4</text>
<rect x="134.2" y="901.4" width="261.2" height="201.0000000000001" fill="none" stroke="#222" stroke-width="1.6"/>
<rect x="134.2" y="1046.4" width="58.60000000000002" height="54.399999999999864" fill="#fff" stroke="#444" stroke-width="1"/>
<path d="M136.8 1052.8H155.4" stroke="#ee2026" stroke-width="1.7"/><circle cx="146.1" cy="1052.8" r="1.7" fill="#ee2026"/>
<text x="157.6" y="1056.1" font-size="9.3" fill="#333">Patch1</text>
<path d="M136.8 1066.6H155.4" stroke="#2a3f9d" stroke-width="1.7"/><circle cx="146.1" cy="1066.6" r="1.7" fill="#2a3f9d"/>
<text x="157.6" y="1069.9" font-size="9.3" fill="#333">Patch2</text>
<path d="M136.8 1080.6H155.4" stroke="#45c3d3" stroke-width="1.7"/><circle cx="146.1" cy="1080.6" r="1.7" fill="#45c3d3"/>
<text x="157.6" y="1083.9" font-size="9.3" fill="#333">Patch3</text>
<path d="M136.8 1094.4H155.4" stroke="#b2409a" stroke-width="1.7"/><circle cx="146.1" cy="1094.4" r="1.7" fill="#b2409a"/>
<text x="157.6" y="1097.7" font-size="9.3" fill="#333">Patch4</text>
<text x="264" y="1145" font-size="20" fill="#2e2e2e" text-anchor="middle">Slide Numbers</text>
<text x="95.5" y="992" font-size="18.6" fill="#2e2e2e" text-anchor="middle" transform="rotate(-90 95.5 992)">Isum (mA)</text>
<filter id="bc" x="-6" y="-6" width="45" height="45" filterUnits="userSpaceOnUse"><feGaussianBlur stdDeviation="0.22"/></filter>
<svg x="506" y="40" width="185" height="185" viewBox="0 0 33 33" preserveAspectRatio="none" overflow="hidden"><g filter="url(#bc)">
<rect x="-5" y="-5" width="43" height="43" fill="rgb(91,91,91)"/>
<path fill="rgb(17,17,17)" stroke="rgb(17,17,17)" stroke-width="0.04" d="M12 8h2v1h-2zM12 9h2v1h-2zM19 15h1v1h-1zM18 16h3v1h-3zM18 17h3v1h-3zM1 18h1v1h-1zM32 27h1v1h-1zM32 28h1v1h-1zM32 29h1v1h-1zM11 31h2v1h-2zM11 32h2v1h-2z"/>
<path fill="rgb(34,34,34)" stroke="rgb(34,34,34)" stroke-width="0.04" d="M19 7h2v1h-2zM14 8h1v1h-1zM2 9h1v1h-1zM12 10h2v1h-2zM18 15h1v1h-1zM20 15h1v1h-1zM1 17h1v1h-1zM18 18h3v1h-3zM32 18h1v1h-1zM1 19h1v1h-1zM32 19h1v1h-1zM18 20h1v1h-1zM32 20h1v1h-1zM32 25h1v1h-1zM32 26h1v1h-1zM23 27h1v1h-1zM20 28h3v1h-3zM31 28h1v1h-1zM31 29h1v1h-1zM12 30h1v1h-1zM30 30h3v1h-3z"/>
<path fill="rgb(57,57,57)" stroke="rgb(57,57,57)" stroke-width="0.04" d="M2 8h2v1h-2zM19 8h2v1h-2zM3 9h1v1h-1zM14 9h1v1h-1zM2 10h1v1h-1zM14 10h1v1h-1zM1 14h2v1h-2zM21 15h1v1h-1zM24 15h2v1h-2zM17 16h1v1h-1zM21 16h1v1h-1zM24 16h2v1h-2zM17 17h1v1h-1zM21 17h1v1h-1zM24 17h2v1h-2zM17 18h1v1h-1zM24 18h2v1h-2z"/>
<path fill="rgb(59,59,59)" stroke="rgb(59,59,59)" stroke-width="0.04" d="M18 19h3v1h-3z"/>
<path fill="rgb(63,63,63)" stroke="rgb(63,63,63)" stroke-width="0.04" d="M17 20h1v1h-1zM19 20h1v1h-1z"/>
<path fill="rgb(67,67,67)" stroke="rgb(67,67,67)" stroke-width="0.04" d="M32 21h1v1h-1z"/>
<path fill="rgb(69,69,69)" stroke="rgb(69,69,69)" stroke-width="0.04" d="M32 22h1v1h-1zM32 23h1v1h-1zM32 24h1v1h-1zM23 26h2v1h-2zM11 27h2v1h-2zM22 27h1v1h-1zM24 27h1v1h-1zM31 27h1v1h-1zM19 28h1v1h-1zM23 28h2v1h-2zM19 29h4v1h-4zM30 29h1v1h-1zM11 30h1v1h-1zM30 31h3v1h-3zM1 32h10v1h-10zM13 32h1v1h-1zM27 32h6v1h-6z"/>
<path fill="rgb(74,74,74)" stroke="rgb(74,74,74)" stroke-width="0.04" d="M10 2h3v1h-3zM17 2h4v1h-4zM10 3h3v1h-3zM17 3h4v1h-4zM28 5h2v1h-2zM5 6h4v1h-4zM19 6h1v1h-1zM28 6h2v1h-2zM4 7h5v1h-5zM18 7h1v1h-1zM4 8h1v1h-1zM11 8h1v1h-1zM15 8h1v1h-1zM18 8h1v1h-1zM23 8h1v1h-1zM4 9h1v1h-1zM11 9h1v1h-1zM15 9h1v1h-1zM23 9h2v1h-2zM3 10h1v1h-1zM11 10h1v1h-1zM23 10h2v1h-2zM23 11h2v1h-2zM26 12h2v1h-2zM26 13h2v1h-2zM3 14h13v1h-13zM25 14h3v1h-3zM1 15h15v1h-15zM17 15h1v1h-1zM26 15h1v1h-1zM26 16h1v1h-1zM26 17h1v1h-1zM32 17h1v1h-1zM2 18h1v1h-1zM21 18h1v1h-1z"/>
<path fill="rgb(76,76,76)" stroke="rgb(76,76,76)" stroke-width="0.04" d="M14 19h4v1h-4zM21 19h1v1h-1zM24 19h2v1h-2z"/>
<path fill="rgb(80,80,80)" stroke="rgb(80,80,80)" stroke-width="0.04" d="M1 20h1v1h-1zM15 20h2v1h-2z"/>
<path fill="rgb(86,86,86)" stroke="rgb(86,86,86)" stroke-width="0.04" d="M14 25h3v1h-3zM23 25h2v1h-2zM12 26h5v1h-5zM25 26h1v1h-1zM31 26h1v1h-1zM5 27h6v1h-6zM13 27h3v1h-3zM25 27h1v1h-1zM5 28h8v1h-8zM18 28h1v1h-1zM25 28h1v1h-1zM30 28h1v1h-1zM11 29h2v1h-2zM18 29h1v1h-1zM23 29h2v1h-2zM29 30h1v1h-1zM10 31h1v1h-1zM13 31h1v1h-1zM27 31h3v1h-3z"/>
<path fill="rgb(93,93,93)" stroke="rgb(93,93,93)" stroke-width="0.04" d="M2 19h1v1h-1zM4 19h4v1h-4zM11 19h3v1h-3zM22 19h1v1h-1z"/>
<path fill="rgb(97,97,97)" stroke="rgb(97,97,97)" stroke-width="0.04" d="M5 20h10v1h-10zM20 20h3v1h-3z"/>
<path fill="rgb(101,101,101)" stroke="rgb(101,101,101)" stroke-width="0.04" d="M4 21h6v1h-6zM16 21h6v1h-6z"/>
<path fill="rgb(103,103,103)" stroke="rgb(103,103,103)" stroke-width="0.04" d="M4 22h17v1h-17zM26 22h1v1h-1zM4 23h16v1h-16zM26 23h2v1h-2zM31 23h1v1h-1zM3 24h16v1h-16zM23 24h5v1h-5zM31 24h1v1h-1zM3 25h11v1h-11zM17 25h1v1h-1zM25 25h2v1h-2zM31 25h1v1h-1zM3 26h9v1h-9zM17 26h1v1h-1zM22 26h1v1h-1zM26 26h1v1h-1zM3 27h2v1h-2zM16 27h2v1h-2zM21 27h1v1h-1zM26 27h1v1h-1zM30 27h1v1h-1zM3 28h2v1h-2zM13 28h5v1h-5zM26 28h1v1h-1zM4 29h7v1h-7zM13 29h5v1h-5zM25 29h2v1h-2zM28 30h1v1h-1zM14 32h13v1h-13z"/>
<path fill="rgb(108,108,108)" stroke="rgb(108,108,108)" stroke-width="0.04" d="M21 0h2v1h-2zM26 0h3v1h-3zM7 1h1v1h-1zM9 1h1v1h-1zM14 1h3v1h-3zM22 1h1v1h-1zM30 1h2v1h-2zM5 2h1v1h-1zM9 2h1v1h-1zM14 2h3v1h-3zM21 2h2v1h-2zM3 3h1v1h-1zM8 3h1v1h-1zM14 3h2v1h-2zM22 3h3v1h-3zM1 4h1v1h-1zM13 4h3v1h-3zM23 4h4v1h-4zM5 5h1v1h-1zM12 5h3v1h-3zM24 5h3v1h-3zM12 6h2v1h-2zM25 6h2v1h-2zM2 7h1v1h-1zM26 7h1v1h-1zM0 9h1v1h-1zM0 10h1v1h-1zM18 10h1v1h-1zM20 10h1v1h-1zM0 11h1v1h-1zM19 11h1v1h-1zM21 11h1v1h-1zM0 12h1v1h-1zM7 12h2v1h-2zM20 12h1v1h-1zM0 13h1v1h-1zM7 13h2v1h-2zM0 14h1v1h-1zM0 15h1v1h-1zM8 16h8v1h-8zM23 16h1v1h-1zM8 17h8v1h-8zM23 17h1v1h-1zM30 17h1v1h-1zM8 18h4v1h-4zM23 18h1v1h-1z"/>
<path fill="rgb(110,110,110)" stroke="rgb(110,110,110)" stroke-width="0.04" d="M3 19h1v1h-1zM8 19h3v1h-3zM23 19h1v1h-1zM26 19h1v1h-1z"/>
<path fill="rgb(114,114,114)" stroke="rgb(114,114,114)" stroke-width="0.04" d="M4 20h1v1h-1zM23 20h4v1h-4z"/>
<path fill="rgb(118,118,118)" stroke="rgb(118,118,118)" stroke-width="0.04" d="M1 21h1v1h-1zM14 21h2v1h-2zM22 21h10v1h-10z"/>
<path fill="rgb(120,120,120)" stroke="rgb(120,120,120)" stroke-width="0.04" d="M3 22h1v1h-1zM21 22h2v1h-2zM24 22h2v1h-2zM27 22h1v1h-1zM30 22h2v1h-2zM3 23h1v1h-1zM20 23h6v1h-6zM30 23h1v1h-1zM2 24h1v1h-1zM19 24h1v1h-1zM22 24h1v1h-1zM30 24h1v1h-1zM2 25h1v1h-1zM18 25h1v1h-1zM22 25h1v1h-1zM27 25h1v1h-1zM2 26h1v1h-1zM30 26h1v1h-1zM2 27h1v1h-1zM18 27h1v1h-1zM2 28h1v1h-1zM2 29h2v1h-2zM27 29h1v1h-1zM29 29h1v1h-1zM13 30h15v1h-15zM9 31h1v1h-1zM14 31h13v1h-13zM0 32h1v1h-1z"/>
<path fill="rgb(125,125,125)" stroke="rgb(125,125,125)" stroke-width="0.04" d="M1 0h7v1h-7zM20 0h1v1h-1zM23 0h3v1h-3zM29 0h1v1h-1zM32 0h1v1h-1zM0 1h1v1h-1zM8 1h1v1h-1zM0 2h1v1h-1zM6 2h1v1h-1zM8 2h1v1h-1zM0 3h1v1h-1zM4 3h1v1h-1zM7 3h1v1h-1zM0 4h1v1h-1zM2 4h1v1h-1zM6 4h1v1h-1zM1 5h1v1h-1zM3 6h1v1h-1zM0 8h1v1h-1zM19 10h1v1h-1zM20 11h1v1h-1zM28 17h2v1h-2zM27 18h1v1h-1zM31 18h1v1h-1z"/>
<path fill="rgb(127,127,127)" stroke="rgb(127,127,127)" stroke-width="0.04" d="M27 19h1v1h-1z"/>
<path fill="rgb(131,131,131)" stroke="rgb(131,131,131)" stroke-width="0.04" d="M2 20h2v1h-2zM27 20h1v1h-1zM31 20h1v1h-1z"/>
<path fill="rgb(135,135,135)" stroke="rgb(135,135,135)" stroke-width="0.04" d="M3 21h1v1h-1zM10 21h4v1h-4z"/>
<path fill="rgb(137,137,137)" stroke="rgb(137,137,137)" stroke-width="0.04" d="M1 22h1v1h-1zM23 22h1v1h-1zM28 22h2v1h-2zM1 23h2v1h-2zM28 23h2v1h-2zM1 24h1v1h-1zM20 24h2v1h-2zM28 24h2v1h-2zM1 25h1v1h-1zM30 25h1v1h-1zM1 26h1v1h-1zM18 26h1v1h-1zM21 26h1v1h-1zM27 26h1v1h-1zM1 27h1v1h-1zM19 27h2v1h-2zM27 27h1v1h-1zM1 28h1v1h-1zM27 28h1v1h-1zM29 28h1v1h-1zM1 29h1v1h-1zM28 29h1v1h-1zM2 30h7v1h-7zM2 31h7v1h-7z"/>
<path fill="rgb(142,142,142)" stroke="rgb(142,142,142)" stroke-width="0.04" d="M0 0h1v1h-1zM8 0h1v1h-1zM16 0h4v1h-4zM7 2h1v1h-1zM5 3h2v1h-2zM3 4h1v1h-1zM5 4h1v1h-1zM0 5h1v1h-1zM2 5h1v1h-1zM4 5h1v1h-1zM0 6h3v1h-3zM1 7h1v1h-1zM0 16h1v1h-1z"/>
<path fill="rgb(144,144,144)" stroke="rgb(144,144,144)" stroke-width="0.04" d="M31 19h1v1h-1z"/>
<path fill="rgb(148,148,148)" stroke="rgb(148,148,148)" stroke-width="0.04" d="M28 20h1v1h-1zM30 20h1v1h-1z"/>
<path fill="rgb(152,152,152)" stroke="rgb(152,152,152)" stroke-width="0.04" d="M0 21h1v1h-1zM2 21h1v1h-1z"/>
<path fill="rgb(153,153,153)" stroke="rgb(153,153,153)" stroke-width="0.04" d="M15 0h1v1h-1zM4 4h1v1h-1zM3 5h1v1h-1zM0 7h1v1h-1zM0 17h1v1h-1zM0 18h1v1h-1zM28 18h1v1h-1zM0 19h1v1h-1zM0 20h1v1h-1zM29 20h1v1h-1zM20 25h1v1h-1zM19 26h2v1h-2zM28 26h1v1h-1zM28 27h1v1h-1zM0 31h1v1h-1z"/>
<path fill="rgb(154,154,154)" stroke="rgb(154,154,154)" stroke-width="0.04" d="M2 22h1v1h-1zM19 25h1v1h-1zM21 25h1v1h-1zM28 25h2v1h-2zM29 26h1v1h-1zM29 27h1v1h-1zM28 28h1v1h-1zM1 30h1v1h-1zM9 30h2v1h-2zM1 31h1v1h-1z"/>
<path fill="rgb(170,170,170)" stroke="rgb(170,170,170)" stroke-width="0.04" d="M9 0h1v1h-1zM12 0h3v1h-3zM30 18h1v1h-1zM28 19h1v1h-1zM30 19h1v1h-1zM0 22h1v1h-1zM0 28h1v1h-1zM0 29h1v1h-1zM0 30h1v1h-1z"/>
<path fill="rgb(187,187,187)" stroke="rgb(187,187,187)" stroke-width="0.04" d="M10 0h2v1h-2zM29 18h1v1h-1zM29 19h1v1h-1zM0 23h1v1h-1zM0 24h1v1h-1zM0 25h1v1h-1zM0 26h1v1h-1zM0 27h1v1h-1z"/>
<path fill="rgb(238,238,238)" stroke="rgb(238,238,238)" stroke-width="0.04" d="M30 0h1v1h-1z"/>
<path fill="rgb(255,255,255)" stroke="rgb(255,255,255)" stroke-width="0.04" d="M31 0h1v1h-1z"/>
</g></svg>
<rect x="506" y="40" width="185" height="185" fill="none" stroke="#3a3a3a" stroke-width="1"/>
<text x="499.6" y="50.5" font-size="18.5" fill="#2e2e2e" text-anchor="end">0</text>
<text x="499.6" y="106.2" font-size="18.5" fill="#2e2e2e" text-anchor="end">10</text>
<text x="499.6" y="162.0" font-size="18.5" fill="#2e2e2e" text-anchor="end">20</text>
<text x="499.6" y="216.6" font-size="18.5" fill="#2e2e2e" text-anchor="end">30</text>
<text x="509.8" y="245.8" font-size="18.5" fill="#2e2e2e" text-anchor="middle">0</text>
<text x="564.5" y="245.8" font-size="18.5" fill="#2e2e2e" text-anchor="middle">10</text>
<text x="619.6" y="245.8" font-size="18.5" fill="#2e2e2e" text-anchor="middle">20</text>
<text x="674.3" y="245.8" font-size="18.5" fill="#2e2e2e" text-anchor="middle">30</text>
<linearGradient id="gc" x1="0" y1="1" x2="0" y2="0"><stop offset="0" stop-color="#000"/><stop offset="1" stop-color="#fff"/></linearGradient>
<rect x="697.3" y="40" width="11.700000000000045" height="185" fill="url(#gc)" stroke="#3a3a3a" stroke-width="1"/>
<text x="715.8" y="49.5" font-size="18.5" fill="#2e2e2e">10</text>
<text x="715.8" y="104.6" font-size="18.5" fill="#2e2e2e">5</text>
<text x="715.8" y="160.3" font-size="18.5" fill="#2e2e2e">0</text>
<text x="715.8" y="215.4" font-size="18.5" fill="#2e2e2e">-5</text>
<text x="779.5" y="116" font-size="24" fill="#2e2e2e" text-anchor="middle" transform="rotate(-90 779.5 116)" textLength="118" lengthAdjust="spacingAndGlyphs">Isum (mA)</text>
<filter id="be" x="-6" y="-6" width="45" height="45" filterUnits="userSpaceOnUse"><feGaussianBlur stdDeviation="0.22"/></filter>
<svg x="838" y="40" width="185.5" height="185" viewBox="0 0 33 33" preserveAspectRatio="none" overflow="hidden"><g filter="url(#be)">
<rect x="-5" y="-5" width="43" height="43" fill="rgb(91,91,91)"/>
<path fill="rgb(0,0,0)" stroke="rgb(0,0,0)" stroke-width="0.04" d="M12 9h1v1h-1zM12 31h1v1h-1z"/>
<path fill="rgb(17,17,17)" stroke="rgb(17,17,17)" stroke-width="0.04" d="M13 9h1v1h-1zM12 10h1v1h-1zM23 13h1v1h-1zM32 21h1v1h-1zM32 27h1v1h-1zM32 28h1v1h-1zM31 29h2v1h-2zM12 30h1v1h-1zM31 30h1v1h-1zM11 31h1v1h-1zM11 32h2v1h-2z"/>
<path fill="rgb(34,34,34)" stroke="rgb(34,34,34)" stroke-width="0.04" d="M19 7h1v1h-1zM12 8h2v1h-2zM19 8h1v1h-1zM11 9h1v1h-1zM19 9h1v1h-1zM11 10h1v1h-1zM13 10h1v1h-1zM23 12h1v1h-1zM18 16h2v1h-2zM18 17h2v1h-2zM1 18h1v1h-1zM32 19h1v1h-1zM32 20h1v1h-1zM32 22h1v1h-1zM32 23h1v1h-1zM32 24h1v1h-1zM32 25h1v1h-1zM32 26h1v1h-1zM19 28h3v1h-3zM31 28h1v1h-1zM19 29h2v1h-2zM30 29h1v1h-1zM30 30h1v1h-1zM32 30h1v1h-1z"/>
<path fill="rgb(57,57,57)" stroke="rgb(57,57,57)" stroke-width="0.04" d="M18 2h1v1h-1zM18 3h2v1h-2zM8 7h1v1h-1zM20 7h1v1h-1zM8 8h1v1h-1zM11 8h1v1h-1zM20 8h1v1h-1zM2 9h1v1h-1zM8 9h1v1h-1zM20 9h1v1h-1zM2 10h1v1h-1zM8 10h1v1h-1zM2 11h1v1h-1zM8 11h1v1h-1zM23 11h1v1h-1zM22 13h1v1h-1zM23 14h1v1h-1zM18 15h2v1h-2zM25 15h1v1h-1zM17 16h1v1h-1zM20 16h1v1h-1zM25 16h1v1h-1zM1 17h1v1h-1zM17 17h1v1h-1zM20 17h1v1h-1zM25 17h1v1h-1zM18 18h2v1h-2zM32 18h1v1h-1zM1 19h1v1h-1zM12 27h2v1h-2zM21 27h3v1h-3zM31 27h1v1h-1zM10 28h3v1h-3zM18 28h1v1h-1zM22 28h2v1h-2zM30 28h1v1h-1zM18 29h1v1h-1zM21 29h1v1h-1zM11 30h1v1h-1zM13 30h1v1h-1zM13 31h1v1h-1zM30 31h3v1h-3zM1 32h10v1h-10z"/>
<path fill="rgb(74,74,74)" stroke="rgb(74,74,74)" stroke-width="0.04" d="M11 1h2v1h-2zM17 1h2v1h-2zM11 2h2v1h-2zM17 2h1v1h-1zM19 2h1v1h-1zM17 3h1v1h-1zM20 3h1v1h-1zM6 5h1v1h-1zM9 5h1v1h-1zM28 5h1v1h-1zM4 6h2v1h-2zM8 6h2v1h-2zM28 6h2v1h-2zM3 7h2v1h-2zM9 7h1v1h-1zM18 7h1v1h-1zM28 7h2v1h-2zM2 8h1v1h-1zM18 8h1v1h-1zM28 8h2v1h-2zM1 9h1v1h-1zM14 9h1v1h-1zM18 9h1v1h-1zM23 9h1v1h-1zM28 9h2v1h-2zM1 10h1v1h-1zM23 10h1v1h-1zM28 10h1v1h-1zM1 11h1v1h-1zM28 11h1v1h-1zM1 12h2v1h-2zM22 12h1v1h-1zM27 12h1v1h-1zM2 13h1v1h-1zM21 13h1v1h-1zM27 13h1v1h-1zM22 14h1v1h-1zM17 15h1v1h-1zM20 15h1v1h-1zM24 15h1v1h-1zM32 17h1v1h-1zM4 18h1v1h-1zM15 18h3v1h-3zM20 18h1v1h-1zM4 19h1v1h-1zM13 19h7v1h-7zM1 20h1v1h-1zM4 20h1v1h-1zM14 20h5v1h-5zM16 21h2v1h-2zM16 24h2v1h-2zM14 25h3v1h-3zM24 25h2v1h-2zM11 26h5v1h-5zM22 26h4v1h-4zM31 26h1v1h-1zM4 27h8v1h-8zM14 27h1v1h-1zM20 27h1v1h-1zM24 27h2v1h-2zM30 27h1v1h-1zM4 28h6v1h-6zM13 28h1v1h-1zM17 28h1v1h-1zM24 28h2v1h-2zM4 29h2v1h-2zM10 29h3v1h-3zM17 29h1v1h-1zM22 29h4v1h-4zM28 31h2v1h-2zM13 32h1v1h-1zM27 32h6v1h-6z"/>
<path fill="rgb(108,108,108)" stroke="rgb(108,108,108)" stroke-width="0.04" d="M22 0h1v1h-1zM6 1h1v1h-1zM16 1h1v1h-1zM20 1h1v1h-1zM23 1h1v1h-1zM30 1h1v1h-1zM5 2h1v1h-1zM9 2h1v1h-1zM16 2h1v1h-1zM23 2h2v1h-2zM30 2h2v1h-2zM3 3h1v1h-1zM8 3h1v1h-1zM12 3h2v1h-2zM15 3h2v1h-2zM21 3h1v1h-1zM24 3h2v1h-2zM1 4h1v1h-1zM11 4h1v1h-1zM14 4h1v1h-1zM21 4h2v1h-2zM26 4h1v1h-1zM14 5h1v1h-1zM21 5h3v1h-3zM3 6h1v1h-1zM10 6h1v1h-1zM22 6h2v1h-2zM27 6h1v1h-1zM30 6h2v1h-2zM1 7h1v1h-1zM10 7h4v1h-4zM22 7h2v1h-2zM27 7h1v1h-1zM30 7h2v1h-2zM6 8h1v1h-1zM10 8h1v1h-1zM15 8h2v1h-2zM22 8h1v1h-1zM26 8h2v1h-2zM30 8h2v1h-2zM6 9h1v1h-1zM10 9h1v1h-1zM15 9h2v1h-2zM22 9h1v1h-1zM26 9h2v1h-2zM30 9h2v1h-2zM6 10h1v1h-1zM14 10h1v1h-1zM17 10h2v1h-2zM22 10h1v1h-1zM26 10h2v1h-2zM30 10h2v1h-2zM6 11h1v1h-1zM9 11h1v1h-1zM17 11h3v1h-3zM24 11h1v1h-1zM26 11h1v1h-1zM30 11h2v1h-2zM6 12h2v1h-2zM16 12h4v1h-4zM26 12h1v1h-1zM29 12h3v1h-3zM6 13h7v1h-7zM15 13h5v1h-5zM26 13h1v1h-1zM29 13h3v1h-3zM6 14h12v1h-12zM26 14h1v1h-1zM28 14h4v1h-4zM6 15h1v1h-1zM9 15h7v1h-7zM22 15h2v1h-2zM27 15h5v1h-5zM5 16h1v1h-1zM10 16h6v1h-6zM27 16h5v1h-5zM0 17h1v1h-1zM5 17h1v1h-1zM11 17h4v1h-4zM24 17h1v1h-1zM27 17h1v1h-1zM31 17h1v1h-1zM0 18h1v1h-1zM2 18h1v1h-1zM5 18h1v1h-1zM9 18h1v1h-1zM21 18h1v1h-1zM3 19h1v1h-1zM21 19h1v1h-1zM25 19h2v1h-2zM6 20h1v1h-1zM8 20h1v1h-1zM20 20h1v1h-1zM1 21h1v1h-1zM6 21h2v1h-2zM19 21h2v1h-2zM25 21h3v1h-3zM31 21h1v1h-1zM3 22h1v1h-1zM10 22h3v1h-3zM19 22h1v1h-1zM24 22h1v1h-1zM27 22h1v1h-1zM30 22h2v1h-2zM19 23h1v1h-1zM27 23h1v1h-1zM30 23h2v1h-2zM2 24h1v1h-1zM23 24h1v1h-1zM27 24h1v1h-1zM30 24h2v1h-2zM2 25h1v1h-1zM17 25h1v1h-1zM22 25h1v1h-1zM27 25h1v1h-1zM30 25h1v1h-1zM2 26h1v1h-1zM30 26h1v1h-1zM17 27h1v1h-1zM19 27h1v1h-1zM29 29h1v1h-1zM2 30h3v1h-3zM6 30h2v1h-2zM17 30h4v1h-4zM23 30h4v1h-4zM14 32h13v1h-13z"/>
<path fill="rgb(125,125,125)" stroke="rgb(125,125,125)" stroke-width="0.04" d="M21 0h1v1h-1zM27 0h2v1h-2zM32 0h1v1h-1zM7 1h2v1h-2zM14 1h2v1h-2zM21 1h2v1h-2zM31 1h1v1h-1zM14 2h2v1h-2zM21 2h2v1h-2zM4 3h1v1h-1zM14 3h1v1h-1zM22 3h2v1h-2zM2 4h1v1h-1zM6 4h1v1h-1zM12 4h2v1h-2zM23 4h3v1h-3zM1 5h1v1h-1zM4 5h1v1h-1zM11 5h1v1h-1zM13 5h1v1h-1zM24 5h3v1h-3zM1 6h1v1h-1zM11 6h1v1h-1zM13 6h1v1h-1zM24 6h3v1h-3zM24 7h3v1h-3zM24 8h2v1h-2zM24 9h2v1h-2zM10 10h1v1h-1zM15 10h2v1h-2zM24 10h1v1h-1zM12 11h5v1h-5zM9 12h1v1h-1zM13 12h3v1h-3zM13 13h2v1h-2zM25 14h1v1h-1zM7 15h2v1h-2zM6 16h1v1h-1zM9 16h1v1h-1zM22 16h1v1h-1zM6 17h1v1h-1zM9 17h1v1h-1zM22 17h1v1h-1zM30 17h1v1h-1zM6 18h1v1h-1zM22 18h1v1h-1zM24 18h1v1h-1zM27 18h1v1h-1zM0 19h1v1h-1zM6 19h1v1h-1zM8 19h1v1h-1zM22 19h1v1h-1zM24 19h1v1h-1zM3 20h1v1h-1zM7 20h1v1h-1zM21 20h2v1h-2zM24 20h3v1h-3zM3 21h1v1h-1zM21 21h1v1h-1zM24 21h1v1h-1zM28 21h3v1h-3zM20 22h1v1h-1zM29 22h1v1h-1zM2 23h1v1h-1zM20 23h1v1h-1zM23 23h1v1h-1zM29 23h1v1h-1zM18 24h1v1h-1zM29 24h1v1h-1zM21 25h1v1h-1zM29 25h1v1h-1zM27 26h1v1h-1zM29 26h1v1h-1zM1 27h1v1h-1zM18 27h1v1h-1zM29 27h1v1h-1zM1 28h1v1h-1zM29 28h1v1h-1zM1 29h1v1h-1zM5 30h1v1h-1zM8 30h1v1h-1zM14 30h3v1h-3zM27 30h2v1h-2zM2 31h8v1h-8zM14 31h13v1h-13zM0 32h1v1h-1z"/>
<path fill="rgb(142,142,142)" stroke="rgb(142,142,142)" stroke-width="0.04" d="M1 0h8v1h-8zM16 0h1v1h-1zM20 0h1v1h-1zM23 0h4v1h-4zM29 0h1v1h-1zM6 2h1v1h-1zM8 2h1v1h-1zM7 3h1v1h-1zM3 4h1v1h-1zM5 4h1v1h-1zM2 5h1v1h-1zM12 5h1v1h-1zM2 6h1v1h-1zM12 6h1v1h-1zM0 10h1v1h-1zM25 10h1v1h-1zM0 11h1v1h-1zM11 11h1v1h-1zM25 11h1v1h-1zM0 12h1v1h-1zM10 12h3v1h-3zM25 12h1v1h-1zM0 13h1v1h-1zM25 13h1v1h-1zM0 14h1v1h-1zM0 15h1v1h-1zM0 16h1v1h-1zM7 16h2v1h-2zM23 16h1v1h-1zM7 17h2v1h-2zM23 17h1v1h-1zM28 17h2v1h-2zM7 18h2v1h-2zM23 18h1v1h-1zM31 18h1v1h-1zM2 19h1v1h-1zM7 19h1v1h-1zM23 19h1v1h-1zM23 20h1v1h-1zM27 20h1v1h-1zM31 20h1v1h-1zM22 21h2v1h-2zM1 22h1v1h-1zM21 22h1v1h-1zM23 22h1v1h-1zM28 22h1v1h-1zM1 23h1v1h-1zM28 23h1v1h-1zM1 24h1v1h-1zM22 24h1v1h-1zM28 24h1v1h-1zM1 25h1v1h-1zM28 25h1v1h-1zM1 26h1v1h-1zM17 26h1v1h-1zM27 27h1v1h-1zM27 28h1v1h-1zM27 29h2v1h-2zM1 30h1v1h-1zM9 30h2v1h-2z"/>
<path fill="rgb(153,153,153)" stroke="rgb(153,153,153)" stroke-width="0.04" d="M15 0h1v1h-1zM17 0h3v1h-3zM0 1h1v1h-1zM0 2h1v1h-1zM7 2h1v1h-1zM0 3h1v1h-1zM5 3h2v1h-2zM0 4h1v1h-1zM4 4h1v1h-1zM0 5h1v1h-1zM3 5h1v1h-1zM0 6h1v1h-1zM0 7h1v1h-1zM0 8h1v1h-1zM0 9h1v1h-1zM10 11h1v1h-1zM27 19h1v1h-1zM31 19h1v1h-1zM30 20h1v1h-1zM2 22h1v1h-1zM22 22h1v1h-1zM21 23h2v1h-2zM19 24h3v1h-3zM20 26h1v1h-1zM28 26h1v1h-1zM28 27h1v1h-1zM28 28h1v1h-1zM1 31h1v1h-1z"/>
<path fill="rgb(170,170,170)" stroke="rgb(170,170,170)" stroke-width="0.04" d="M0 0h1v1h-1zM9 0h1v1h-1zM28 20h2v1h-2z"/>
<path fill="rgb(187,187,187)" stroke="rgb(187,187,187)" stroke-width="0.04" d="M12 0h3v1h-3zM28 18h1v1h-1zM30 18h1v1h-1zM2 20h1v1h-1zM2 21h1v1h-1zM20 25h1v1h-1z"/>
<path fill="rgb(204,204,204)" stroke="rgb(204,204,204)" stroke-width="0.04" d="M10 0h2v1h-2zM29 18h1v1h-1zM28 19h1v1h-1zM30 19h1v1h-1zM0 20h1v1h-1zM18 25h1v1h-1zM0 31h1v1h-1z"/>
<path fill="rgb(221,221,221)" stroke="rgb(221,221,221)" stroke-width="0.04" d="M30 0h1v1h-1zM29 19h1v1h-1zM0 21h1v1h-1zM0 22h1v1h-1zM18 26h1v1h-1zM0 28h1v1h-1zM0 29h1v1h-1zM0 30h1v1h-1z"/>
<path fill="rgb(238,238,238)" stroke="rgb(238,238,238)" stroke-width="0.04" d="M0 23h1v1h-1zM0 24h1v1h-1zM0 25h1v1h-1zM19 25h1v1h-1zM0 26h1v1h-1zM19 26h1v1h-1zM0 27h1v1h-1z"/>
<path fill="rgb(255,255,255)" stroke="rgb(255,255,255)" stroke-width="0.04" d="M31 0h1v1h-1z"/>
</g></svg>
<rect x="838" y="40" width="185.5" height="185" fill="none" stroke="#3a3a3a" stroke-width="1"/>
<text x="829.8" y="50.4" font-size="18.5" fill="#2e2e2e" text-anchor="end">0</text>
<text x="829.8" y="103.9" font-size="18.5" fill="#2e2e2e" text-anchor="end">10</text>
<text x="829.8" y="161.6" font-size="18.5" fill="#2e2e2e" text-anchor="end">20</text>
<text x="829.8" y="216.9" font-size="18.5" fill="#2e2e2e" text-anchor="end">30</text>
<text x="843.7" y="245.7" font-size="18.5" fill="#2e2e2e" text-anchor="middle">0</text>
<text x="899.5" y="245.7" font-size="18.5" fill="#2e2e2e" text-anchor="middle">10</text>
<text x="953" y="245.7" font-size="18.5" fill="#2e2e2e" text-anchor="middle">20</text>
<text x="1008.2" y="245.7" font-size="18.5" fill="#2e2e2e" text-anchor="middle">30</text>
<linearGradient id="ge" x1="0" y1="1" x2="0" y2="0"><stop offset="0" stop-color="#000"/><stop offset="1" stop-color="#fff"/></linearGradient>
<rect x="1028.7" y="40" width="13.599999999999909" height="185" fill="url(#ge)" stroke="#3a3a3a" stroke-width="1"/>
<text x="1048" y="63.6" font-size="16.3" fill="#2e2e2e">0.06</text>
<text x="1048" y="94.1" font-size="16.3" fill="#2e2e2e">0.04</text>
<text x="1048" y="125.2" font-size="16.3" fill="#2e2e2e">0.02</text>
<text x="1048" y="156.7" font-size="16.3" fill="#2e2e2e">0</text>
<text x="1048" y="187.5" font-size="16.3" fill="#2e2e2e">-0.02</text>
<text x="1048" y="218.7" font-size="16.3" fill="#2e2e2e">-0.04</text>
<text x="1122.5" y="125.7" font-size="24.5" fill="#2e2e2e" text-anchor="middle" transform="rotate(-90 1122.5 125.7)" textLength="125" lengthAdjust="spacingAndGlyphs">Pixel Value</text>
<filter id="bd" x="-6" y="-6" width="45" height="45" filterUnits="userSpaceOnUse"><feGaussianBlur stdDeviation="0.22"/></filter>
<svg x="500.3" y="314.7" width="189.99999999999994" height="191.60000000000002" viewBox="0 0 33 33" preserveAspectRatio="none" overflow="hidden"><g filter="url(#bd)">
<rect x="-5" y="-5" width="43" height="43" fill="rgb(85,85,85)"/>
<path fill="rgb(102,102,102)" stroke="rgb(102,102,102)" stroke-width="0.04" d="M22 0h2v1h-2zM26 0h4v1h-4zM0 12h1v1h-1zM0 13h1v1h-1zM0 14h1v1h-1zM22 18h2v1h-2zM9 20h4v1h-4zM4 21h9v1h-9zM3 22h7v1h-7zM26 23h1v1h-1zM26 24h1v1h-1zM26 25h1v1h-1zM3 26h4v1h-4zM26 26h1v1h-1zM30 26h1v1h-1z"/>
<path fill="rgb(119,119,119)" stroke="rgb(119,119,119)" stroke-width="0.04" d="M24 0h2v1h-2zM10 1h1v1h-1zM13 2h1v1h-1zM23 2h1v1h-1zM31 2h1v1h-1zM7 4h1v1h-1zM6 5h1v1h-1zM11 5h1v1h-1zM26 5h1v1h-1zM0 9h1v1h-1zM18 10h2v1h-2zM0 11h1v1h-1zM20 11h1v1h-1zM9 17h1v1h-1zM7 18h1v1h-1zM22 19h2v1h-2zM1 20h1v1h-1zM6 20h3v1h-3zM24 21h5v1h-5zM11 22h1v1h-1zM24 22h1v1h-1zM30 22h1v1h-1zM3 23h7v1h-7zM11 23h1v1h-1zM27 23h1v1h-1zM30 23h1v1h-1zM3 24h6v1h-6zM30 24h1v1h-1zM3 25h5v1h-5zM30 25h1v1h-1zM21 26h1v1h-1zM29 28h1v1h-1zM2 30h1v1h-1zM2 31h1v1h-1z"/>
<path fill="rgb(136,136,136)" stroke="rgb(136,136,136)" stroke-width="0.04" d="M21 0h1v1h-1zM32 0h1v1h-1zM16 1h1v1h-1zM18 1h3v1h-3zM6 2h1v1h-1zM8 3h1v1h-1zM12 4h1v1h-1zM13 5h1v1h-1zM4 6h1v1h-1zM0 10h1v1h-1zM13 11h1v1h-1zM7 19h1v1h-1zM31 19h1v1h-1zM23 20h1v1h-1zM25 20h1v1h-1zM31 20h1v1h-1zM3 21h1v1h-1zM22 21h1v1h-1zM29 22h1v1h-1zM24 23h1v1h-1zM29 23h1v1h-1zM29 24h1v1h-1zM29 25h1v1h-1zM29 26h1v1h-1zM29 27h1v1h-1zM1 29h1v1h-1zM3 29h1v1h-1zM11 30h1v1h-1z"/>
<path fill="rgb(153,153,153)" stroke="rgb(153,153,153)" stroke-width="0.04" d="M9 2h1v1h-1zM5 3h1v1h-1zM13 3h1v1h-1zM3 4h1v1h-1zM2 7h1v1h-1zM0 8h1v1h-1zM12 11h1v1h-1zM0 15h1v1h-1zM24 20h1v1h-1zM27 20h1v1h-1zM1 21h1v1h-1zM23 21h1v1h-1zM27 24h1v1h-1zM2 25h1v1h-1zM22 25h1v1h-1zM27 25h1v1h-1zM2 26h1v1h-1zM3 27h1v1h-1zM19 27h1v1h-1zM1 28h1v1h-1zM3 28h1v1h-1zM2 29h1v1h-1zM4 30h2v1h-2z"/>
<path fill="rgb(170,170,170)" stroke="rgb(170,170,170)" stroke-width="0.04" d="M1 0h8v1h-8zM0 1h1v1h-1zM15 1h1v1h-1zM0 2h1v1h-1zM0 3h1v1h-1zM0 4h1v1h-1zM13 4h1v1h-1zM0 5h1v1h-1zM1 6h1v1h-1zM12 6h1v1h-1zM11 11h1v1h-1zM8 16h2v1h-2zM28 18h2v1h-2zM8 19h1v1h-1zM27 19h1v1h-1zM22 22h2v1h-2zM21 23h1v1h-1zM2 24h1v1h-1zM19 25h1v1h-1zM27 26h1v1h-1zM2 27h1v1h-1zM17 27h1v1h-1zM2 28h1v1h-1zM27 29h2v1h-2zM9 30h2v1h-2z"/>
<path fill="rgb(187,187,187)" stroke="rgb(187,187,187)" stroke-width="0.04" d="M17 0h4v1h-4zM2 5h1v1h-1zM5 5h1v1h-1zM0 6h1v1h-1zM11 6h1v1h-1zM3 19h1v1h-1zM3 20h1v1h-1zM30 20h1v1h-1zM28 22h1v1h-1zM2 23h1v1h-1zM21 24h1v1h-1zM23 24h1v1h-1zM20 26h1v1h-1zM1 27h1v1h-1zM28 28h1v1h-1zM0 30h2v1h-2zM1 31h1v1h-1zM5 31h5v1h-5z"/>
<path fill="rgb(204,204,204)" stroke="rgb(204,204,204)" stroke-width="0.04" d="M0 0h1v1h-1zM16 0h1v1h-1zM8 1h2v1h-2zM12 5h1v1h-1zM3 6h1v1h-1zM1 7h1v1h-1zM10 7h2v1h-2zM8 17h1v1h-1zM0 18h1v1h-1zM8 18h1v1h-1zM0 19h1v1h-1zM2 19h1v1h-1zM30 19h1v1h-1zM0 20h1v1h-1zM0 21h1v1h-1zM2 22h1v1h-1zM22 23h2v1h-2zM28 23h1v1h-1zM28 24h1v1h-1zM20 25h2v1h-2zM28 25h1v1h-1zM28 26h1v1h-1zM27 27h2v1h-2zM0 29h1v1h-1zM0 31h1v1h-1z"/>
<path fill="rgb(221,221,221)" stroke="rgb(221,221,221)" stroke-width="0.04" d="M7 2h2v1h-2zM6 3h2v1h-2zM4 4h3v1h-3zM3 5h2v1h-2zM2 6h1v1h-1zM2 20h1v1h-1zM2 21h1v1h-1zM0 22h2v1h-2zM1 23h1v1h-1zM22 24h1v1h-1zM1 26h1v1h-1zM18 27h1v1h-1zM0 28h1v1h-1zM27 28h1v1h-1z"/>
<path fill="rgb(238,238,238)" stroke="rgb(238,238,238)" stroke-width="0.04" d="M30 0h2v1h-2zM0 16h1v1h-1zM29 20h1v1h-1zM0 23h1v1h-1zM1 24h1v1h-1zM1 25h1v1h-1zM18 26h1v1h-1zM0 27h1v1h-1z"/>
<path fill="rgb(255,255,255)" stroke="rgb(255,255,255)" stroke-width="0.04" d="M9 0h7v1h-7zM0 7h1v1h-1zM0 17h1v1h-1zM28 19h2v1h-2zM28 20h1v1h-1zM0 24h1v1h-1zM0 25h1v1h-1zM0 26h1v1h-1zM19 26h1v1h-1z"/>
</g></svg>
<rect x="500.3" y="314.7" width="189.99999999999994" height="191.60000000000002" fill="none" stroke="#3a3a3a" stroke-width="1"/>
<text x="493.6" y="330.3" font-size="18.5" fill="#2e2e2e" text-anchor="end">0</text>
<text x="493.6" y="385.8" font-size="18.5" fill="#2e2e2e" text-anchor="end">10</text>
<text x="493.6" y="439.5" font-size="18.5" fill="#2e2e2e" text-anchor="end">20</text>
<text x="493.6" y="495.0" font-size="18.5" fill="#2e2e2e" text-anchor="end">30</text>
<text x="507.5" y="530.7" font-size="18.5" fill="#2e2e2e" text-anchor="middle">0</text>
<text x="561.2" y="530.7" font-size="18.5" fill="#2e2e2e" text-anchor="middle">10</text>
<text x="616.7" y="530.7" font-size="18.5" fill="#2e2e2e" text-anchor="middle">20</text>
<text x="672.1" y="530.7" font-size="18.5" fill="#2e2e2e" text-anchor="middle">30</text>
<linearGradient id="gd" x1="0" y1="1" x2="0" y2="0"><stop offset="0" stop-color="#555"/><stop offset="1" stop-color="#fff"/></linearGradient>
<rect x="697.1" y="314.7" width="12.100000000000023" height="191.60000000000002" fill="url(#gd)" stroke="#3a3a3a" stroke-width="1"/>
<text x="720.7" y="323.4" font-size="18.5" fill="#2e2e2e">0.6</text>
<text x="720.7" y="416.0" font-size="18.5" fill="#2e2e2e">0.55</text>
<text x="720.7" y="509.6" font-size="18.5" fill="#2e2e2e">0.5</text>
<text x="779" y="411" font-size="24" fill="#2e2e2e" text-anchor="middle" transform="rotate(-90 779 411)" textLength="88.5" lengthAdjust="spacingAndGlyphs">Vout (V)</text>
<filter id="bf" x="-6" y="-6" width="45" height="45" filterUnits="userSpaceOnUse"><feGaussianBlur stdDeviation="0.22"/></filter>
<svg x="830.3" y="307.1" width="194.9000000000001" height="194.2" viewBox="0 0 33 33" preserveAspectRatio="none" overflow="hidden"><g filter="url(#bf)">
<rect x="-5" y="-5" width="43" height="43" fill="rgb(85,85,85)"/>
<path fill="rgb(102,102,102)" stroke="rgb(102,102,102)" stroke-width="0.04" d="M21 0h3v1h-3zM26 0h4v1h-4zM6 10h1v1h-1zM30 10h1v1h-1zM13 15h3v1h-3zM11 16h4v1h-4zM11 17h3v1h-3zM18 21h2v1h-2z"/>
<path fill="rgb(119,119,119)" stroke="rgb(119,119,119)" stroke-width="0.04" d="M24 0h2v1h-2zM16 1h1v1h-1zM13 6h1v1h-1zM24 6h1v1h-1zM3 7h1v1h-1zM24 7h1v1h-1zM24 8h1v1h-1zM11 9h1v1h-1zM17 9h2v1h-2zM25 10h1v1h-1zM0 11h1v1h-1zM20 11h1v1h-1zM0 12h1v1h-1zM0 13h1v1h-1zM11 13h1v1h-1zM25 13h1v1h-1zM0 14h1v1h-1zM11 14h2v1h-2zM14 14h2v1h-2zM0 15h1v1h-1zM11 15h2v1h-2zM0 16h1v1h-1zM22 17h1v1h-1zM24 17h1v1h-1zM1 20h1v1h-1zM3 22h1v1h-1zM24 22h1v1h-1zM23 24h1v1h-1zM1 29h1v1h-1z"/>
<path fill="rgb(136,136,136)" stroke="rgb(136,136,136)" stroke-width="0.04" d="M32 0h1v1h-1zM21 1h1v1h-1zM31 2h1v1h-1zM12 3h1v1h-1zM24 3h2v1h-2zM4 6h1v1h-1zM0 9h1v1h-1zM15 9h1v1h-1zM0 10h1v1h-1zM17 10h3v1h-3zM17 11h3v1h-3zM25 11h1v1h-1zM16 12h1v1h-1zM25 12h1v1h-1zM7 13h1v1h-1zM12 13h3v1h-3zM7 14h2v1h-2zM23 16h1v1h-1zM0 17h1v1h-1zM7 17h1v1h-1zM9 17h1v1h-1zM3 18h1v1h-1zM22 18h1v1h-1zM6 19h1v1h-1zM21 19h1v1h-1zM25 19h2v1h-2zM21 20h1v1h-1zM4 21h1v1h-1zM24 21h1v1h-1zM5 22h1v1h-1zM2 23h1v1h-1zM23 23h1v1h-1zM22 25h1v1h-1zM21 26h1v1h-1zM1 27h1v1h-1zM1 30h1v1h-1zM11 30h1v1h-1zM5 31h1v1h-1zM10 31h1v1h-1z"/>
<path fill="rgb(153,153,153)" stroke="rgb(153,153,153)" stroke-width="0.04" d="M10 1h1v1h-1zM14 1h1v1h-1zM22 2h2v1h-2zM2 4h1v1h-1zM12 4h1v1h-1zM25 4h2v1h-2zM5 5h1v1h-1zM26 5h1v1h-1zM12 7h1v1h-1zM14 10h1v1h-1zM16 10h1v1h-1zM12 12h1v1h-1zM8 13h2v1h-2zM15 13h1v1h-1zM9 16h1v1h-1zM0 18h1v1h-1zM24 18h1v1h-1zM24 19h1v1h-1zM4 20h1v1h-1zM8 20h1v1h-1zM3 21h1v1h-1zM7 21h1v1h-1zM21 21h1v1h-1zM6 22h1v1h-1zM20 23h1v1h-1zM27 26h1v1h-1zM0 29h1v1h-1zM9 30h2v1h-2zM6 31h3v1h-3z"/>
<path fill="rgb(170,170,170)" stroke="rgb(170,170,170)" stroke-width="0.04" d="M1 0h7v1h-7zM0 1h1v1h-1zM15 1h1v1h-1zM19 1h2v1h-2zM0 2h1v1h-1zM13 2h1v1h-1zM0 3h1v1h-1zM0 4h1v1h-1zM6 4h1v1h-1zM0 5h1v1h-1zM13 5h1v1h-1zM1 8h1v1h-1zM9 8h1v1h-1zM9 9h1v1h-1zM9 10h1v1h-1zM16 11h1v1h-1zM9 12h1v1h-1zM11 12h1v1h-1zM13 12h1v1h-1zM8 15h2v1h-2zM23 17h1v1h-1zM28 17h2v1h-2zM7 18h1v1h-1zM0 19h1v1h-1zM22 19h1v1h-1zM5 20h2v1h-2zM24 20h3v1h-3zM1 21h1v1h-1zM5 21h1v1h-1zM21 22h1v1h-1zM23 22h1v1h-1zM1 26h1v1h-1zM17 27h1v1h-1zM19 27h1v1h-1zM0 30h1v1h-1zM9 31h1v1h-1z"/>
<path fill="rgb(187,187,187)" stroke="rgb(187,187,187)" stroke-width="0.04" d="M0 0h1v1h-1zM16 0h5v1h-5zM8 2h1v1h-1zM4 3h1v1h-1zM7 3h1v1h-1zM13 3h1v1h-1zM0 6h1v1h-1zM2 7h1v1h-1zM11 8h1v1h-1zM10 9h1v1h-1zM10 10h1v1h-1zM15 10h1v1h-1zM13 11h1v1h-1zM14 12h2v1h-2zM23 18h1v1h-1zM27 18h1v1h-1zM2 19h1v1h-1zM8 19h1v1h-1zM0 20h1v1h-1zM22 20h1v1h-1zM27 20h1v1h-1zM6 21h1v1h-1zM23 21h1v1h-1zM28 21h1v1h-1zM2 22h1v1h-1zM28 22h1v1h-1zM28 23h1v1h-1zM20 24h1v1h-1zM22 24h1v1h-1zM28 24h1v1h-1zM1 25h1v1h-1zM19 25h1v1h-1zM28 25h1v1h-1zM28 26h1v1h-1zM27 27h2v1h-2zM0 28h1v1h-1zM28 28h1v1h-1zM27 29h1v1h-1zM28 30h1v1h-1zM1 31h1v1h-1z"/>
<path fill="rgb(204,204,204)" stroke="rgb(204,204,204)" stroke-width="0.04" d="M7 1h1v1h-1zM9 1h1v1h-1zM6 2h1v1h-1zM3 4h1v1h-1zM13 4h1v1h-1zM2 5h1v1h-1zM4 5h1v1h-1zM12 5h1v1h-1zM1 6h1v1h-1zM3 6h1v1h-1zM11 6h2v1h-2zM10 7h2v1h-2zM10 8h1v1h-1zM10 11h1v1h-1zM12 11h1v1h-1zM14 11h2v1h-2zM10 12h1v1h-1zM8 16h1v1h-1zM8 17h1v1h-1zM8 18h1v1h-1zM3 19h1v1h-1zM7 19h1v1h-1zM23 19h1v1h-1zM27 19h1v1h-1zM31 19h1v1h-1zM3 20h1v1h-1zM7 20h1v1h-1zM23 20h1v1h-1zM28 20h1v1h-1zM22 21h1v1h-1zM1 22h1v1h-1zM22 22h1v1h-1zM1 23h1v1h-1zM21 23h2v1h-2zM1 24h1v1h-1zM21 25h1v1h-1zM20 26h1v1h-1zM27 28h1v1h-1zM28 29h1v1h-1zM0 31h1v1h-1z"/>
<path fill="rgb(221,221,221)" stroke="rgb(221,221,221)" stroke-width="0.04" d="M8 1h1v1h-1zM7 2h1v1h-1zM5 3h2v1h-2zM4 4h2v1h-2zM3 5h1v1h-1zM2 6h1v1h-1zM1 7h1v1h-1zM0 8h1v1h-1zM11 11h1v1h-1zM30 18h1v1h-1zM2 20h1v1h-1zM0 21h1v1h-1zM2 21h1v1h-1zM21 24h1v1h-1zM20 25h1v1h-1zM18 26h1v1h-1zM0 27h1v1h-1zM18 27h1v1h-1z"/>
<path fill="rgb(238,238,238)" stroke="rgb(238,238,238)" stroke-width="0.04" d="M8 0h8v1h-8zM30 0h2v1h-2zM0 7h1v1h-1zM30 19h1v1h-1zM0 26h1v1h-1z"/>
<path fill="rgb(255,255,255)" stroke="rgb(255,255,255)" stroke-width="0.04" d="M28 18h2v1h-2zM28 19h2v1h-2zM0 22h1v1h-1zM0 23h1v1h-1zM0 24h1v1h-1zM0 25h1v1h-1zM19 26h1v1h-1z"/>
</g></svg>
<rect x="830.3" y="307.1" width="194.9000000000001" height="194.2" fill="none" stroke="#3a3a3a" stroke-width="1"/>
<text x="823.6" y="323.9" font-size="18.5" fill="#2e2e2e" text-anchor="end">0</text>
<text x="823.6" y="379.2" font-size="18.5" fill="#2e2e2e" text-anchor="end">10</text>
<text x="823.6" y="432.8" font-size="18.5" fill="#2e2e2e" text-anchor="end">20</text>
<text x="823.6" y="488.0" font-size="18.5" fill="#2e2e2e" text-anchor="end">30</text>
<text x="836.3" y="523.4" font-size="18.5" fill="#2e2e2e" text-anchor="middle">0</text>
<text x="892.4" y="523.4" font-size="18.5" fill="#2e2e2e" text-anchor="middle">10</text>
<text x="952.4" y="523.4" font-size="18.5" fill="#2e2e2e" text-anchor="middle">20</text>
<text x="1007.3" y="523.4" font-size="18.5" fill="#2e2e2e" text-anchor="middle">30</text>
<linearGradient id="gf" x1="0" y1="1" x2="0" y2="0"><stop offset="0" stop-color="#555"/><stop offset="1" stop-color="#fff"/></linearGradient>
<rect x="1031.3" y="307.1" width="13.200000000000045" height="194.2" fill="url(#gf)" stroke="#3a3a3a" stroke-width="1"/>
<text x="1055.6" y="353.5" font-size="19" fill="#2e2e2e">0.04</text>
<text x="1055.6" y="430.5" font-size="19" fill="#2e2e2e">0.02</text>
<text x="1055.6" y="504.6" font-size="19" fill="#2e2e2e">0</text>
<text x="1122.5" y="408" font-size="24.5" fill="#2e2e2e" text-anchor="middle" transform="rotate(-90 1122.5 408)" textLength="124.7" lengthAdjust="spacingAndGlyphs">Pixel Value</text>
<filter id="bi" x="-6" y="-6" width="45" height="45" filterUnits="userSpaceOnUse"><feGaussianBlur stdDeviation="0.28"/></filter>
<svg x="498.3" y="627.7" width="187.7" height="187.0999999999999" viewBox="0 0 33 33" preserveAspectRatio="none" overflow="hidden"><g filter="url(#bi)">
<rect x="-5" y="-5" width="43" height="43" fill="rgb(119,119,119)"/>
<path fill="rgb(0,0,0)" stroke="rgb(0,0,0)" stroke-width="0.04" d="M8 4h4v1h-4zM8 5h4v1h-4zM8 6h3v1h-3zM8 7h3v1h-3zM8 8h2v1h-2zM5 19h2v1h-2zM5 20h2v1h-2zM6 21h1v1h-1z"/>
<path fill="rgb(17,17,17)" stroke="rgb(17,17,17)" stroke-width="0.04" d="M10 1h2v1h-2zM7 2h6v1h-6zM6 3h7v1h-7zM7 4h1v1h-1zM12 4h1v1h-1zM7 5h1v1h-1zM12 5h1v1h-1zM7 6h1v1h-1zM11 6h1v1h-1zM7 7h1v1h-1zM11 7h1v1h-1zM7 8h1v1h-1zM10 8h1v1h-1zM8 9h2v1h-2zM8 10h2v1h-2zM8 11h2v1h-2zM8 12h2v1h-2zM8 13h2v1h-2zM2 14h1v1h-1zM8 14h1v1h-1zM2 15h1v1h-1zM8 15h1v1h-1zM2 16h2v1h-2zM8 16h1v1h-1zM3 17h1v1h-1zM7 17h2v1h-2zM4 18h4v1h-4zM4 19h1v1h-1zM7 19h1v1h-1zM7 20h1v1h-1zM5 21h1v1h-1z"/>
<path fill="rgb(34,34,34)" stroke="rgb(34,34,34)" stroke-width="0.04" d="M8 1h2v1h-2zM12 1h2v1h-2zM18 1h1v1h-1zM6 2h1v1h-1zM13 2h1v1h-1zM23 2h2v1h-2zM23 3h2v1h-2zM6 4h1v1h-1zM24 4h1v1h-1zM5 5h2v1h-2zM5 6h2v1h-2zM12 6h1v1h-1zM5 7h2v1h-2zM6 8h1v1h-1zM11 8h1v1h-1zM7 9h1v1h-1zM10 9h1v1h-1zM7 10h1v1h-1zM2 11h1v1h-1zM7 11h1v1h-1zM1 12h2v1h-2zM7 12h1v1h-1zM1 13h3v1h-3zM7 13h1v1h-1zM1 14h1v1h-1zM3 14h1v1h-1zM7 14h1v1h-1zM9 14h1v1h-1zM24 14h1v1h-1zM1 15h1v1h-1zM3 15h1v1h-1zM7 15h1v1h-1zM9 15h1v1h-1zM24 15h2v1h-2zM7 16h1v1h-1zM9 16h1v1h-1zM26 16h1v1h-1zM2 17h1v1h-1zM4 17h1v1h-1zM6 17h1v1h-1zM27 17h1v1h-1zM3 18h1v1h-1zM8 18h1v1h-1zM27 18h1v1h-1zM27 19h1v1h-1zM4 20h1v1h-1zM21 20h1v1h-1zM27 20h1v1h-1zM7 21h1v1h-1zM21 21h1v1h-1zM5 22h2v1h-2z"/>
<path fill="rgb(51,51,51)" stroke="rgb(51,51,51)" stroke-width="0.04" d="M6 0h6v1h-6zM17 0h1v1h-1zM7 1h1v1h-1zM14 1h1v1h-1zM19 1h1v1h-1zM23 1h2v1h-2zM19 2h1v1h-1zM25 2h1v1h-1zM5 3h1v1h-1zM25 3h1v1h-1zM5 4h1v1h-1zM23 4h1v1h-1zM25 4h1v1h-1zM4 5h1v1h-1zM24 5h2v1h-2zM3 6h2v1h-2zM3 7h2v1h-2zM12 7h1v1h-1zM2 8h4v1h-4zM20 8h1v1h-1zM2 9h5v1h-5zM20 9h2v1h-2zM1 10h3v1h-3zM10 10h1v1h-1zM20 10h3v1h-3zM1 11h1v1h-1zM3 11h1v1h-1zM10 11h1v1h-1zM21 11h2v1h-2zM3 12h1v1h-1zM10 12h1v1h-1zM22 12h2v1h-2zM23 13h2v1h-2zM23 14h1v1h-1zM4 15h1v1h-1zM1 16h1v1h-1zM4 16h1v1h-1zM6 16h1v1h-1zM24 16h2v1h-2zM27 16h1v1h-1zM5 17h1v1h-1zM9 17h1v1h-1zM26 17h1v1h-1zM22 18h1v1h-1zM26 18h1v1h-1zM3 19h1v1h-1zM8 19h1v1h-1zM21 19h2v1h-2zM22 20h1v1h-1zM26 20h1v1h-1zM4 21h1v1h-1zM22 21h1v1h-1zM26 21h2v1h-2zM21 22h1v1h-1z"/>
<path fill="rgb(68,68,68)" stroke="rgb(68,68,68)" stroke-width="0.04" d="M5 0h1v1h-1zM12 0h2v1h-2zM16 0h1v1h-1zM18 0h2v1h-2zM6 1h1v1h-1zM17 1h1v1h-1zM20 1h3v1h-3zM25 1h1v1h-1zM5 2h1v1h-1zM18 2h1v1h-1zM20 2h3v1h-3zM4 3h1v1h-1zM13 3h1v1h-1zM19 3h1v1h-1zM22 3h1v1h-1zM26 3h1v1h-1zM4 4h1v1h-1zM26 4h1v1h-1zM3 5h1v1h-1zM23 5h1v1h-1zM26 5h1v1h-1zM2 6h1v1h-1zM24 6h3v1h-3zM1 7h2v1h-2zM20 7h1v1h-1zM25 7h2v1h-2zM1 8h1v1h-1zM12 8h1v1h-1zM19 8h1v1h-1zM21 8h1v1h-1zM26 8h1v1h-1zM1 9h1v1h-1zM19 9h1v1h-1zM4 10h3v1h-3zM4 11h1v1h-1zM6 11h1v1h-1zM23 11h1v1h-1zM0 12h1v1h-1zM4 12h1v1h-1zM6 12h1v1h-1zM13 12h1v1h-1zM21 12h1v1h-1zM0 13h1v1h-1zM4 13h1v1h-1zM6 13h1v1h-1zM10 13h1v1h-1zM13 13h2v1h-2zM22 13h1v1h-1zM0 14h1v1h-1zM4 14h1v1h-1zM6 14h1v1h-1zM25 14h1v1h-1zM0 15h1v1h-1zM5 15h2v1h-2zM23 15h1v1h-1zM5 16h1v1h-1zM23 16h1v1h-1zM30 16h1v1h-1zM1 17h1v1h-1zM22 17h2v1h-2zM30 17h2v1h-2zM2 18h1v1h-1zM9 18h1v1h-1zM21 18h1v1h-1zM30 18h2v1h-2zM26 19h1v1h-1zM28 19h1v1h-1zM30 19h2v1h-2zM3 20h1v1h-1zM8 20h1v1h-1zM20 20h1v1h-1zM28 20h1v1h-1zM20 21h1v1h-1zM23 21h1v1h-1zM25 21h1v1h-1zM4 22h1v1h-1zM7 22h1v1h-1zM22 22h1v1h-1z"/>
<path fill="rgb(85,85,85)" stroke="rgb(85,85,85)" stroke-width="0.04" d="M4 0h1v1h-1zM14 0h2v1h-2zM20 0h5v1h-5zM5 1h1v1h-1zM15 1h2v1h-2zM26 1h1v1h-1zM4 2h1v1h-1zM14 2h1v1h-1zM26 2h1v1h-1zM18 3h1v1h-1zM20 3h2v1h-2zM3 4h1v1h-1zM19 4h1v1h-1zM22 4h1v1h-1zM27 4h1v1h-1zM2 5h1v1h-1zM22 5h1v1h-1zM27 5h1v1h-1zM1 6h1v1h-1zM20 6h1v1h-1zM23 6h1v1h-1zM27 6h1v1h-1zM0 7h1v1h-1zM21 7h1v1h-1zM23 7h2v1h-2zM27 7h1v1h-1zM0 8h1v1h-1zM24 8h2v1h-2zM27 8h1v1h-1zM0 9h1v1h-1zM22 9h1v1h-1zM25 9h3v1h-3zM0 10h1v1h-1zM19 10h1v1h-1zM23 10h1v1h-1zM26 10h2v1h-2zM0 11h1v1h-1zM5 11h1v1h-1zM20 11h1v1h-1zM5 12h1v1h-1zM12 12h1v1h-1zM14 12h1v1h-1zM24 12h1v1h-1zM5 13h1v1h-1zM12 13h1v1h-1zM32 13h1v1h-1zM5 14h1v1h-1zM10 14h1v1h-1zM22 14h1v1h-1zM29 14h2v1h-2zM32 14h1v1h-1zM26 15h1v1h-1zM29 15h4v1h-4zM0 16h1v1h-1zM22 16h1v1h-1zM29 16h1v1h-1zM31 16h2v1h-2zM24 17h2v1h-2zM28 17h2v1h-2zM32 17h1v1h-1zM23 18h1v1h-1zM28 18h2v1h-2zM32 18h1v1h-1zM9 19h1v1h-1zM20 19h1v1h-1zM23 19h1v1h-1zM29 19h1v1h-1zM32 19h1v1h-1zM23 20h1v1h-1zM25 20h1v1h-1zM30 20h3v1h-3zM3 21h1v1h-1zM8 21h1v1h-1zM24 21h1v1h-1zM28 21h1v1h-1zM20 22h1v1h-1zM23 22h5v1h-5zM5 23h2v1h-2zM21 23h1v1h-1zM20 24h2v1h-2zM21 25h1v1h-1z"/>
<path fill="rgb(102,102,102)" stroke="rgb(102,102,102)" stroke-width="0.04" d="M0 0h1v1h-1zM3 0h1v1h-1zM25 0h2v1h-2zM4 1h1v1h-1zM27 1h1v1h-1zM3 2h1v1h-1zM17 2h1v1h-1zM27 2h1v1h-1zM3 3h1v1h-1zM27 3h1v1h-1zM2 4h1v1h-1zM13 4h1v1h-1zM18 4h1v1h-1zM20 4h2v1h-2zM0 5h2v1h-2zM19 5h3v1h-3zM28 5h1v1h-1zM0 6h1v1h-1zM19 6h1v1h-1zM21 6h2v1h-2zM28 6h1v1h-1zM19 7h1v1h-1zM22 7h1v1h-1zM28 7h1v1h-1zM22 8h2v1h-2zM28 8h1v1h-1zM11 9h1v1h-1zM23 9h2v1h-2zM28 9h1v1h-1zM32 9h1v1h-1zM24 10h2v1h-2zM28 10h2v1h-2zM32 10h1v1h-1zM13 11h1v1h-1zM24 11h1v1h-1zM26 11h4v1h-4zM32 11h1v1h-1zM15 12h1v1h-1zM27 12h6v1h-6zM15 13h1v1h-1zM21 13h1v1h-1zM25 13h1v1h-1zM28 13h4v1h-4zM26 14h1v1h-1zM28 14h1v1h-1zM31 14h1v1h-1zM10 15h1v1h-1zM22 15h1v1h-1zM28 15h1v1h-1zM10 16h1v1h-1zM28 16h1v1h-1zM0 17h1v1h-1zM21 17h1v1h-1zM1 18h1v1h-1zM20 18h1v1h-1zM24 18h2v1h-2zM2 19h1v1h-1zM25 19h1v1h-1zM9 20h1v1h-1zM24 20h1v1h-1zM29 20h1v1h-1zM30 21h3v1h-3zM3 22h1v1h-1zM4 23h1v1h-1zM7 23h1v1h-1zM20 23h1v1h-1zM22 23h1v1h-1zM20 25h1v1h-1zM20 26h2v1h-2zM0 30h1v1h-1zM0 31h1v1h-1z"/>
<path fill="rgb(136,136,136)" stroke="rgb(136,136,136)" stroke-width="0.04" d="M29 0h3v1h-3zM29 1h3v1h-3zM15 2h2v1h-2zM29 2h3v1h-3zM14 3h1v1h-1zM29 3h3v1h-3zM17 4h1v1h-1zM29 4h3v1h-3zM17 5h1v1h-1zM29 5h3v1h-3zM13 6h1v1h-1zM17 6h1v1h-1zM29 6h3v1h-3zM13 7h1v1h-1zM17 7h1v1h-1zM30 7h2v1h-2zM13 8h1v1h-1zM17 8h1v1h-1zM12 9h2v1h-2zM17 9h1v1h-1zM12 10h1v1h-1zM14 10h1v1h-1zM17 10h1v1h-1zM15 11h1v1h-1zM17 11h2v1h-2zM16 12h4v1h-4zM16 13h1v1h-1zM19 13h2v1h-2zM11 14h2v1h-2zM15 14h1v1h-1zM20 14h1v1h-1zM21 15h1v1h-1zM20 16h1v1h-1zM0 19h1v1h-1zM10 19h1v1h-1zM0 20h2v1h-2zM10 20h1v1h-1zM19 20h1v1h-1zM10 21h1v1h-1zM19 21h1v1h-1zM9 22h1v1h-1zM19 22h1v1h-1zM29 22h2v1h-2zM8 23h1v1h-1zM19 23h1v1h-1zM28 23h4v1h-4zM5 24h2v1h-2zM17 24h2v1h-2zM28 24h4v1h-4zM3 25h2v1h-2zM17 25h2v1h-2zM28 25h1v1h-1zM31 25h1v1h-1zM2 26h2v1h-2zM16 26h2v1h-2zM28 26h1v1h-1zM31 26h1v1h-1zM2 27h1v1h-1zM15 27h5v1h-5zM25 27h7v1h-7zM1 28h1v1h-1zM32 28h1v1h-1zM1 29h1v1h-1zM1 30h1v1h-1zM2 31h1v1h-1zM10 31h2v1h-2z"/>
<path fill="rgb(153,153,153)" stroke="rgb(153,153,153)" stroke-width="0.04" d="M16 7h1v1h-1zM14 8h1v1h-1zM16 8h1v1h-1zM14 9h3v1h-3zM15 10h2v1h-2zM16 11h1v1h-1zM17 13h2v1h-2zM16 14h4v1h-4zM11 15h1v1h-1zM14 15h7v1h-7zM17 16h3v1h-3zM18 17h2v1h-2zM19 18h1v1h-1zM19 19h1v1h-1zM11 20h1v1h-1zM11 21h3v1h-3zM18 21h1v1h-1zM10 22h6v1h-6zM18 22h1v1h-1zM9 23h10v1h-10zM7 24h10v1h-10zM5 25h12v1h-12zM29 25h2v1h-2zM4 26h2v1h-2zM10 26h6v1h-6zM29 26h2v1h-2zM3 27h2v1h-2zM11 27h4v1h-4zM2 28h1v1h-1zM13 28h6v1h-6zM24 28h5v1h-5zM31 28h1v1h-1zM32 29h1v1h-1zM2 30h1v1h-1zM10 30h2v1h-2zM3 31h7v1h-7zM12 31h6v1h-6z"/>
<path fill="rgb(170,170,170)" stroke="rgb(170,170,170)" stroke-width="0.04" d="M15 3h2v1h-2zM14 4h3v1h-3zM14 5h3v1h-3zM14 6h3v1h-3zM14 7h2v1h-2zM15 8h1v1h-1zM12 15h2v1h-2zM11 16h2v1h-2zM14 16h3v1h-3zM11 17h2v1h-2zM15 17h3v1h-3zM11 18h5v1h-5zM18 18h1v1h-1zM11 19h4v1h-4zM18 19h1v1h-1zM12 20h3v1h-3zM17 20h2v1h-2zM14 21h4v1h-4zM16 22h2v1h-2zM6 26h4v1h-4zM5 27h6v1h-6zM3 28h3v1h-3zM9 28h4v1h-4zM19 28h5v1h-5zM29 28h2v1h-2zM2 29h1v1h-1zM9 29h2v1h-2zM13 29h6v1h-6zM24 29h4v1h-4zM3 30h1v1h-1zM9 30h1v1h-1zM12 30h6v1h-6zM18 31h1v1h-1z"/>
<path fill="rgb(187,187,187)" stroke="rgb(187,187,187)" stroke-width="0.04" d="M13 16h1v1h-1zM13 17h1v1h-1zM16 18h2v1h-2zM15 19h3v1h-3zM15 20h2v1h-2zM6 28h3v1h-3zM3 29h3v1h-3zM8 29h1v1h-1zM11 29h2v1h-2zM19 29h1v1h-1zM23 29h1v1h-1zM28 29h1v1h-1zM31 29h1v1h-1zM4 30h2v1h-2zM8 30h1v1h-1zM18 30h1v1h-1zM22 30h4v1h-4zM32 30h1v1h-1zM19 31h5v1h-5z"/>
<path fill="rgb(204,204,204)" stroke="rgb(204,204,204)" stroke-width="0.04" d="M14 17h1v1h-1zM6 29h2v1h-2zM20 29h3v1h-3zM29 29h2v1h-2zM6 30h2v1h-2zM19 30h3v1h-3zM26 30h1v1h-1zM31 30h1v1h-1zM24 31h1v1h-1z"/>
<path fill="rgb(221,221,221)" stroke="rgb(221,221,221)" stroke-width="0.04" d="M27 30h4v1h-4zM32 31h1v1h-1z"/>
<path fill="rgb(238,238,238)" stroke="rgb(238,238,238)" stroke-width="0.04" d="M25 31h1v1h-1zM0 32h1v1h-1zM32 32h1v1h-1z"/>
<path fill="rgb(255,255,255)" stroke="rgb(255,255,255)" stroke-width="0.04" d="M26 31h6v1h-6zM1 32h31v1h-31z"/>
</g></svg>
<rect x="498.3" y="627.7" width="187.7" height="187.0999999999999" fill="none" stroke="#3a3a3a" stroke-width="1"/>
<text x="488.4" y="647.0" font-size="18.5" fill="#2e2e2e" text-anchor="end">0</text>
<text x="488.4" y="702.5" font-size="18.5" fill="#2e2e2e" text-anchor="end">10</text>
<text x="488.4" y="756.6" font-size="18.5" fill="#2e2e2e" text-anchor="end">20</text>
<text x="488.4" y="811.7" font-size="18.5" fill="#2e2e2e" text-anchor="end">30</text>
<text x="501.6" y="841.2" font-size="18.5" fill="#2e2e2e" text-anchor="middle">0</text>
<text x="555" y="841.2" font-size="18.5" fill="#2e2e2e" text-anchor="middle">10</text>
<text x="611.5" y="841.2" font-size="18.5" fill="#2e2e2e" text-anchor="middle">20</text>
<text x="665.2" y="841.2" font-size="18.5" fill="#2e2e2e" text-anchor="middle">30</text>
<linearGradient id="gi" x1="0" y1="1" x2="0" y2="0"><stop offset="0" stop-color="#000"/><stop offset="1" stop-color="#fff"/></linearGradient>
<rect x="696.4" y="627.7" width="15.600000000000023" height="187.0999999999999" fill="url(#gi)" stroke="#3a3a3a" stroke-width="1"/>
<text x="720.7" y="654.4" font-size="21.5" fill="#2e2e2e">5</text>
<text x="720.7" y="734.8" font-size="21.5" fill="#2e2e2e">0</text>
<text x="720.7" y="813.8" font-size="21.5" fill="#2e2e2e">-5</text>
<text x="779.5" y="711.7" font-size="21.4" fill="#2e2e2e" text-anchor="middle" transform="rotate(-90 779.5 711.7)" textLength="98.7" lengthAdjust="spacingAndGlyphs">Isum (mA)</text>
<filter id="bk" x="-6" y="-6" width="43" height="43" filterUnits="userSpaceOnUse"><feGaussianBlur stdDeviation="0.28"/></filter>
<svg x="840.4" y="632.6" width="177.0" height="177.0" viewBox="0 0 31 31" preserveAspectRatio="none" overflow="hidden"><g filter="url(#bk)">
<rect x="-5" y="-5" width="41" height="41" fill="rgb(170,170,170)"/>
<path fill="rgb(0,0,0)" stroke="rgb(0,0,0)" stroke-width="0.04" d="M10 3h1v1h-1zM10 4h1v1h-1zM10 5h1v1h-1zM8 8h1v1h-1zM8 9h1v1h-1zM8 10h1v1h-1zM8 11h1v1h-1zM8 12h1v1h-1zM5 18h1v1h-1zM5 19h1v1h-1zM5 20h1v1h-1z"/>
<path fill="rgb(17,17,17)" stroke="rgb(17,17,17)" stroke-width="0.04" d="M16 1h1v1h-1zM9 2h3v1h-3zM9 3h1v1h-1zM11 3h1v1h-1zM9 4h1v1h-1zM11 4h1v1h-1zM5 5h1v1h-1zM9 5h1v1h-1zM9 6h2v1h-2zM8 7h2v1h-2zM7 8h1v1h-1zM9 8h1v1h-1zM7 9h1v1h-1zM9 9h1v1h-1zM7 10h1v1h-1zM9 10h1v1h-1zM7 11h1v1h-1zM7 12h1v1h-1zM1 13h1v1h-1zM7 13h2v1h-2zM1 14h2v1h-2zM8 14h1v1h-1zM22 14h1v1h-1zM1 15h2v1h-2zM23 15h1v1h-1zM2 16h1v1h-1zM4 17h2v1h-2zM4 18h1v1h-1zM4 19h1v1h-1zM6 19h1v1h-1zM6 20h1v1h-1z"/>
<path fill="rgb(34,34,34)" stroke="rgb(34,34,34)" stroke-width="0.04" d="M11 1h2v1h-2zM17 1h1v1h-1zM21 1h1v1h-1zM16 2h1v1h-1zM21 2h2v1h-2zM22 3h2v1h-2zM4 4h2v1h-2zM4 5h1v1h-1zM11 5h1v1h-1zM5 6h1v1h-1zM11 6h1v1h-1zM7 7h1v1h-1zM10 7h1v1h-1zM1 9h1v1h-1zM1 10h2v1h-2zM20 10h1v1h-1zM1 11h2v1h-2zM9 11h1v1h-1zM20 11h2v1h-2zM1 12h2v1h-2zM9 12h1v1h-1zM12 12h1v1h-1zM21 12h1v1h-1zM2 13h1v1h-1zM21 13h2v1h-2zM7 14h1v1h-1zM23 14h1v1h-1zM3 15h1v1h-1zM8 15h1v1h-1zM22 15h1v1h-1zM1 16h1v1h-1zM3 16h3v1h-3zM23 16h1v1h-1zM3 17h1v1h-1zM24 17h1v1h-1zM6 18h1v1h-1zM24 18h1v1h-1zM25 19h1v1h-1zM4 20h1v1h-1zM5 21h1v1h-1z"/>
<path fill="rgb(51,51,51)" stroke="rgb(51,51,51)" stroke-width="0.04" d="M11 0h1v1h-1zM16 0h2v1h-2zM9 1h2v1h-2zM22 1h1v1h-1zM12 2h1v1h-1zM17 2h1v1h-1zM23 2h1v1h-1zM4 3h2v1h-2zM21 3h1v1h-1zM6 4h1v1h-1zM23 4h2v1h-2zM3 5h1v1h-1zM6 5h1v1h-1zM2 6h3v1h-3zM6 6h1v1h-1zM8 6h1v1h-1zM1 7h3v1h-3zM6 7h1v1h-1zM11 7h1v1h-1zM18 7h1v1h-1zM1 8h2v1h-2zM6 8h1v1h-1zM10 8h1v1h-1zM18 8h2v1h-2zM2 9h1v1h-1zM6 9h1v1h-1zM19 9h2v1h-2zM6 10h1v1h-1zM19 10h1v1h-1zM21 10h1v1h-1zM6 11h1v1h-1zM12 11h1v1h-1zM6 12h1v1h-1zM13 12h1v1h-1zM20 12h1v1h-1zM22 12h1v1h-1zM6 13h1v1h-1zM9 13h1v1h-1zM3 14h1v1h-1zM6 14h1v1h-1zM9 14h1v1h-1zM4 15h4v1h-4zM6 16h1v1h-1zM8 16h1v1h-1zM24 16h1v1h-1zM2 17h1v1h-1zM6 17h1v1h-1zM23 17h1v1h-1zM3 18h1v1h-1zM25 18h1v1h-1zM18 19h2v1h-2zM24 19h1v1h-1zM18 20h2v1h-2zM25 20h1v1h-1zM6 21h1v1h-1zM19 21h2v1h-2z"/>
<path fill="rgb(68,68,68)" stroke="rgb(68,68,68)" stroke-width="0.04" d="M10 0h1v1h-1zM12 0h1v1h-1zM15 0h1v1h-1zM7 1h2v1h-2zM18 1h1v1h-1zM20 1h1v1h-1zM7 2h2v1h-2zM20 2h1v1h-1zM6 3h3v1h-3zM24 3h1v1h-1zM3 4h1v1h-1zM7 4h2v1h-2zM22 4h1v1h-1zM2 5h1v1h-1zM7 5h2v1h-2zM18 5h1v1h-1zM23 5h3v1h-3zM1 6h1v1h-1zM7 6h1v1h-1zM18 6h1v1h-1zM25 6h1v1h-1zM4 7h2v1h-2zM19 7h1v1h-1zM0 8h1v1h-1zM3 8h1v1h-1zM5 8h1v1h-1zM0 9h1v1h-1zM3 9h1v1h-1zM18 9h1v1h-1zM0 10h1v1h-1zM3 10h1v1h-1zM0 11h1v1h-1zM3 11h1v1h-1zM19 11h1v1h-1zM0 12h1v1h-1zM3 12h1v1h-1zM0 13h1v1h-1zM3 13h3v1h-3zM0 14h1v1h-1zM4 14h2v1h-2zM21 14h1v1h-1zM0 15h1v1h-1zM9 15h1v1h-1zM7 16h1v1h-1zM9 16h1v1h-1zM22 16h1v1h-1zM7 17h2v1h-2zM7 18h1v1h-1zM18 18h1v1h-1zM23 18h1v1h-1zM3 19h1v1h-1zM7 19h1v1h-1zM26 19h1v1h-1zM20 20h1v1h-1zM26 20h1v1h-1zM4 21h1v1h-1zM18 21h1v1h-1zM19 22h2v1h-2zM19 23h2v1h-2z"/>
<path fill="rgb(85,85,85)" stroke="rgb(85,85,85)" stroke-width="0.04" d="M5 0h5v1h-5zM13 0h2v1h-2zM18 0h6v1h-6zM6 1h1v1h-1zM13 1h1v1h-1zM15 1h1v1h-1zM19 1h1v1h-1zM23 1h1v1h-1zM4 2h3v1h-3zM18 2h2v1h-2zM24 2h1v1h-1zM3 3h1v1h-1zM12 3h1v1h-1zM17 3h2v1h-2zM20 3h1v1h-1zM25 3h1v1h-1zM2 4h1v1h-1zM17 4h2v1h-2zM21 4h1v1h-1zM25 4h1v1h-1zM1 5h1v1h-1zM17 5h1v1h-1zM22 5h1v1h-1zM0 6h1v1h-1zM17 6h1v1h-1zM19 6h1v1h-1zM22 6h3v1h-3zM26 6h1v1h-1zM0 7h1v1h-1zM17 7h1v1h-1zM22 7h5v1h-5zM4 8h1v1h-1zM11 8h1v1h-1zM17 8h1v1h-1zM20 8h1v1h-1zM23 8h3v1h-3zM4 9h2v1h-2zM10 9h1v1h-1zM21 9h1v1h-1zM4 10h2v1h-2zM18 10h1v1h-1zM4 11h2v1h-2zM13 11h1v1h-1zM22 11h1v1h-1zM4 12h2v1h-2zM11 12h1v1h-1zM12 13h1v1h-1zM20 13h1v1h-1zM23 13h1v1h-1zM27 13h1v1h-1zM27 14h1v1h-1zM24 15h1v1h-1zM9 17h1v1h-1zM25 17h1v1h-1zM8 18h2v1h-2zM19 18h1v1h-1zM28 18h1v1h-1zM20 19h1v1h-1zM27 19h1v1h-1zM7 20h1v1h-1zM24 20h1v1h-1zM19 24h2v1h-2z"/>
<path fill="rgb(102,102,102)" stroke="rgb(102,102,102)" stroke-width="0.04" d="M0 0h5v1h-5zM24 0h3v1h-3zM0 1h1v1h-1zM3 1h3v1h-3zM14 1h1v1h-1zM24 1h1v1h-1zM0 2h1v1h-1zM3 2h1v1h-1zM13 2h1v1h-1zM25 2h1v1h-1zM2 3h1v1h-1zM16 3h1v1h-1zM19 3h1v1h-1zM26 3h1v1h-1zM1 4h1v1h-1zM12 4h1v1h-1zM19 4h2v1h-2zM26 4h1v1h-1zM0 5h1v1h-1zM19 5h3v1h-3zM26 5h1v1h-1zM20 6h2v1h-2zM20 7h2v1h-2zM21 8h2v1h-2zM26 8h1v1h-1zM17 9h1v1h-1zM22 9h5v1h-5zM10 10h1v1h-1zM26 10h1v1h-1zM11 11h1v1h-1zM26 11h1v1h-1zM19 12h1v1h-1zM26 12h2v1h-2zM13 13h2v1h-2zM26 13h1v1h-1zM21 15h1v1h-1zM27 15h1v1h-1zM0 16h1v1h-1zM1 17h1v1h-1zM18 17h1v1h-1zM22 17h1v1h-1zM2 18h1v1h-1zM26 18h2v1h-2zM29 18h2v1h-2zM8 19h1v1h-1zM23 19h1v1h-1zM28 19h1v1h-1zM3 20h1v1h-1zM27 20h1v1h-1zM21 21h1v1h-1zM21 22h1v1h-1zM19 25h2v1h-2zM0 29h1v1h-1zM0 30h1v1h-1z"/>
<path fill="rgb(119,119,119)" stroke="rgb(119,119,119)" stroke-width="0.04" d="M27 0h1v1h-1zM30 0h1v1h-1zM1 1h2v1h-2zM25 1h3v1h-3zM1 2h2v1h-2zM15 2h1v1h-1zM26 2h2v1h-2zM0 3h2v1h-2zM27 3h1v1h-1zM0 4h1v1h-1zM27 4h1v1h-1zM12 5h1v1h-1zM27 5h1v1h-1zM12 6h1v1h-1zM27 6h1v1h-1zM27 7h1v1h-1zM27 8h1v1h-1zM27 9h1v1h-1zM12 10h1v1h-1zM22 10h1v1h-1zM25 10h1v1h-1zM27 10h1v1h-1zM30 10h1v1h-1zM10 11h1v1h-1zM18 11h1v1h-1zM27 11h1v1h-1zM30 11h1v1h-1zM10 12h1v1h-1zM14 12h1v1h-1zM30 12h1v1h-1zM11 13h1v1h-1zM15 13h1v1h-1zM28 13h1v1h-1zM30 13h1v1h-1zM14 14h2v1h-2zM24 14h1v1h-1zM26 14h1v1h-1zM28 14h1v1h-1zM30 14h1v1h-1zM28 15h1v1h-1zM30 15h1v1h-1zM25 16h1v1h-1zM27 16h2v1h-2zM30 16h1v1h-1zM27 17h2v1h-2zM30 17h1v1h-1zM9 19h1v1h-1zM17 19h1v1h-1zM29 19h2v1h-2zM8 20h1v1h-1zM17 20h1v1h-1zM21 20h1v1h-1zM7 21h1v1h-1zM25 21h2v1h-2zM18 22h1v1h-1zM18 23h1v1h-1zM21 23h1v1h-1zM0 24h1v1h-1zM18 24h1v1h-1zM0 25h1v1h-1zM15 25h4v1h-4zM0 26h1v1h-1zM14 26h2v1h-2zM0 27h1v1h-1zM0 28h1v1h-1zM1 30h1v1h-1zM6 30h3v1h-3z"/>
<path fill="rgb(136,136,136)" stroke="rgb(136,136,136)" stroke-width="0.04" d="M28 0h2v1h-2zM30 1h1v1h-1zM14 2h1v1h-1zM30 2h1v1h-1zM30 3h1v1h-1zM16 4h1v1h-1zM30 4h1v1h-1zM16 5h1v1h-1zM30 5h1v1h-1zM16 6h1v1h-1zM28 6h1v1h-1zM30 6h1v1h-1zM12 7h1v1h-1zM28 7h1v1h-1zM30 7h1v1h-1zM28 8h3v1h-3zM11 9h1v1h-1zM28 9h3v1h-3zM11 10h1v1h-1zM17 10h1v1h-1zM28 10h2v1h-2zM25 11h1v1h-1zM28 11h2v1h-2zM23 12h1v1h-1zM25 12h1v1h-1zM28 12h2v1h-2zM10 13h1v1h-1zM25 13h1v1h-1zM29 13h1v1h-1zM13 14h1v1h-1zM16 14h1v1h-1zM20 14h1v1h-1zM25 14h1v1h-1zM29 14h1v1h-1zM15 15h2v1h-2zM25 15h2v1h-2zM29 15h1v1h-1zM21 16h1v1h-1zM29 16h1v1h-1zM19 17h1v1h-1zM26 17h1v1h-1zM29 17h1v1h-1zM17 18h1v1h-1zM20 18h1v1h-1zM22 18h1v1h-1zM2 19h1v1h-1zM9 20h1v1h-1zM23 20h1v1h-1zM28 20h1v1h-1zM30 20h1v1h-1zM0 21h1v1h-1zM3 21h1v1h-1zM8 21h1v1h-1zM17 21h1v1h-1zM22 21h1v1h-1zM24 21h1v1h-1zM27 21h1v1h-1zM0 22h1v1h-1zM5 22h1v1h-1zM0 23h1v1h-1zM21 24h1v1h-1zM1 25h1v1h-1zM14 25h1v1h-1zM21 25h1v1h-1zM1 26h1v1h-1zM16 26h1v1h-1zM14 27h2v1h-2zM14 28h1v1h-1zM1 29h1v1h-1zM6 29h3v1h-3zM2 30h1v1h-1zM5 30h1v1h-1zM9 30h7v1h-7zM30 30h1v1h-1z"/>
<path fill="rgb(153,153,153)" stroke="rgb(153,153,153)" stroke-width="0.04" d="M28 1h2v1h-2zM28 2h1v1h-1zM28 3h1v1h-1zM28 4h1v1h-1zM28 5h1v1h-1zM29 6h1v1h-1zM16 7h1v1h-1zM29 7h1v1h-1zM12 8h1v1h-1zM16 8h1v1h-1zM23 10h2v1h-2zM23 11h1v1h-1zM18 12h1v1h-1zM16 13h1v1h-1zM19 13h1v1h-1zM24 13h1v1h-1zM10 14h1v1h-1zM12 14h1v1h-1zM14 15h1v1h-1zM17 15h1v1h-1zM20 15h1v1h-1zM16 16h2v1h-2zM26 16h1v1h-1zM0 17h1v1h-1zM17 17h1v1h-1zM21 17h1v1h-1zM1 18h1v1h-1zM21 18h1v1h-1zM21 19h2v1h-2zM0 20h1v1h-1zM2 20h1v1h-1zM22 20h1v1h-1zM29 20h1v1h-1zM1 21h2v1h-2zM9 21h1v1h-1zM23 21h1v1h-1zM30 21h1v1h-1zM1 22h4v1h-4zM6 22h1v1h-1zM22 22h1v1h-1zM1 23h1v1h-1zM1 24h1v1h-1zM13 26h1v1h-1zM17 26h1v1h-1zM30 26h1v1h-1zM1 27h1v1h-1zM13 27h1v1h-1zM30 27h1v1h-1zM1 28h1v1h-1zM13 28h1v1h-1zM15 28h1v1h-1zM30 28h1v1h-1zM9 29h7v1h-7zM30 29h1v1h-1zM3 30h2v1h-2zM16 30h1v1h-1zM23 30h3v1h-3z"/>
<path fill="rgb(187,187,187)" stroke="rgb(187,187,187)" stroke-width="0.04" d="M15 3h1v1h-1zM13 4h1v1h-1zM15 4h1v1h-1zM13 5h1v1h-1zM15 5h1v1h-1zM13 6h1v1h-1zM15 6h1v1h-1zM13 7h1v1h-1zM15 7h1v1h-1zM13 8h1v1h-1zM15 8h1v1h-1zM13 9h1v1h-1zM15 9h1v1h-1zM14 10h2v1h-2zM15 11h1v1h-1zM17 13h2v1h-2zM19 14h1v1h-1zM11 15h2v1h-2zM18 15h2v1h-2zM19 16h1v1h-1zM10 21h1v1h-1zM8 22h2v1h-2zM16 22h1v1h-1zM3 23h5v1h-5zM16 23h1v1h-1zM23 23h2v1h-2zM27 23h1v1h-1zM3 24h2v1h-2zM14 24h3v1h-3zM22 24h3v1h-3zM27 24h1v1h-1zM3 25h2v1h-2zM12 25h1v1h-1zM23 25h2v1h-2zM27 25h1v1h-1zM11 26h1v1h-1zM27 26h1v1h-1zM29 26h1v1h-1zM11 27h1v1h-1zM23 27h1v1h-1zM29 27h1v1h-1zM10 28h2v1h-2zM16 28h1v1h-1zM23 28h1v1h-1zM25 28h1v1h-1zM19 30h2v1h-2zM27 30h2v1h-2z"/>
<path fill="rgb(204,204,204)" stroke="rgb(204,204,204)" stroke-width="0.04" d="M14 3h1v1h-1zM14 6h1v1h-1zM14 7h1v1h-1zM14 8h1v1h-1zM14 9h1v1h-1zM18 14h1v1h-1zM11 16h4v1h-4zM11 17h2v1h-2zM15 17h1v1h-1zM11 18h2v1h-2zM11 19h2v1h-2zM11 20h3v1h-3zM15 20h1v1h-1zM11 21h5v1h-5zM10 22h6v1h-6zM28 22h2v1h-2zM8 23h8v1h-8zM5 24h9v1h-9zM5 25h7v1h-7zM28 25h2v1h-2zM3 26h3v1h-3zM8 26h3v1h-3zM28 26h1v1h-1zM2 27h1v1h-1zM9 27h2v1h-2zM17 27h1v1h-1zM22 27h1v1h-1zM2 28h1v1h-1zM8 28h2v1h-2zM29 28h1v1h-1zM3 29h2v1h-2zM17 29h1v1h-1zM22 29h1v1h-1zM29 29h1v1h-1z"/>
<path fill="rgb(221,221,221)" stroke="rgb(221,221,221)" stroke-width="0.04" d="M14 4h1v1h-1zM14 5h1v1h-1zM13 17h1v1h-1zM13 18h1v1h-1zM15 18h1v1h-1zM13 19h1v1h-1zM15 19h1v1h-1zM14 20h1v1h-1zM28 23h2v1h-2zM28 24h2v1h-2zM6 26h2v1h-2zM8 27h1v1h-1zM26 27h1v1h-1zM28 27h1v1h-1zM6 28h2v1h-2zM22 28h1v1h-1zM18 29h1v1h-1zM21 29h1v1h-1zM26 29h1v1h-1z"/>
<path fill="rgb(238,238,238)" stroke="rgb(238,238,238)" stroke-width="0.04" d="M14 17h1v1h-1zM3 27h1v1h-1zM5 27h3v1h-3zM18 27h1v1h-1zM21 27h1v1h-1zM27 27h1v1h-1zM5 28h1v1h-1zM17 28h1v1h-1zM19 29h2v1h-2z"/>
<path fill="rgb(255,255,255)" stroke="rgb(255,255,255)" stroke-width="0.04" d="M14 18h1v1h-1zM14 19h1v1h-1zM4 27h1v1h-1zM19 27h2v1h-2zM3 28h2v1h-2zM18 28h4v1h-4zM26 28h3v1h-3zM27 29h2v1h-2z"/>
</g></svg>
<rect x="840.4" y="632.6" width="177.0" height="177.0" fill="none" stroke="#3a3a3a" stroke-width="1"/>
<text x="833.1" y="647.1" font-size="18.5" fill="#2e2e2e" text-anchor="end">0</text>
<text x="833.1" y="702.3" font-size="18.5" fill="#2e2e2e" text-anchor="end">10</text>
<text x="833.1" y="755.9" font-size="18.5" fill="#2e2e2e" text-anchor="end">20</text>
<text x="833.1" y="811.2" font-size="18.5" fill="#2e2e2e" text-anchor="end">30</text>
<text x="844.8" y="833.2" font-size="18.5" fill="#2e2e2e" text-anchor="middle">0</text>
<text x="899.4" y="833.2" font-size="18.5" fill="#2e2e2e" text-anchor="middle">10</text>
<text x="954" y="833.2" font-size="18.5" fill="#2e2e2e" text-anchor="middle">20</text>
<text x="1008.9" y="833.2" font-size="18.5" fill="#2e2e2e" text-anchor="middle">30</text>
<linearGradient id="gk" x1="0" y1="1" x2="0" y2="0"><stop offset="0" stop-color="#000"/><stop offset="1" stop-color="#fff"/></linearGradient>
<rect x="1026.2" y="632.6" width="16.09999999999991" height="177.0" fill="url(#gk)" stroke="#3a3a3a" stroke-width="1"/>
<text x="1050.2" y="668.9" font-size="17.5" fill="#2e2e2e">1</text>
<text x="1050.2" y="713.0" font-size="17.5" fill="#2e2e2e">0</text>
<text x="1050.2" y="755.6" font-size="17.5" fill="#2e2e2e">-1</text>
<text x="1050.2" y="799.2" font-size="17.5" fill="#2e2e2e">-2</text>
<text x="1057.2" y="639.5" font-size="17.5" fill="#2e2e2e">x10</text>
<text x="1084" y="632" font-size="9.5" fill="#2e2e2e">-10</text>
<text x="1116.5" y="717.8" font-size="20.8" fill="#2e2e2e" text-anchor="middle" transform="rotate(-90 1116.5 717.8)" textLength="104" lengthAdjust="spacingAndGlyphs">Pixel Value</text>
<filter id="bj" x="-6" y="-6" width="45" height="45" filterUnits="userSpaceOnUse"><feGaussianBlur stdDeviation="0.25"/></filter>
<svg x="496.3" y="902.1" width="195.99999999999994" height="194.19999999999993" viewBox="0 0 33 33" preserveAspectRatio="none" overflow="hidden"><g filter="url(#bj)">
<rect x="-5" y="-5" width="43" height="43" fill="rgb(76,76,76)"/>
<path fill="rgb(85,85,85)" stroke="rgb(85,85,85)" stroke-width="0.04" d="M29 0h1v1h-1zM29 1h1v1h-1zM29 2h1v1h-1zM29 3h1v1h-1zM29 4h1v1h-1zM29 5h1v1h-1zM29 6h1v1h-1zM29 7h1v1h-1zM29 8h1v1h-1zM29 9h1v1h-1zM29 10h1v1h-1zM29 11h1v1h-1zM29 12h1v1h-1zM30 18h1v1h-1zM30 19h1v1h-1zM30 20h1v1h-1zM29 21h1v1h-1zM0 23h1v1h-1zM2 23h1v1h-1zM0 30h1v1h-1z"/>
<path fill="rgb(102,102,102)" stroke="rgb(102,102,102)" stroke-width="0.04" d="M32 0h1v1h-1zM32 1h1v1h-1zM32 2h1v1h-1zM32 3h1v1h-1zM32 4h1v1h-1zM32 5h1v1h-1zM18 6h1v1h-1zM32 6h1v1h-1zM18 7h1v1h-1zM32 7h1v1h-1zM18 8h1v1h-1zM32 8h1v1h-1zM18 9h1v1h-1zM32 9h1v1h-1zM32 10h1v1h-1zM25 11h1v1h-1zM32 11h1v1h-1zM25 12h2v1h-2zM32 12h1v1h-1zM12 13h1v1h-1zM15 13h1v1h-1zM21 13h1v1h-1zM26 13h2v1h-2zM30 13h3v1h-3zM27 14h1v1h-1zM30 14h3v1h-3zM27 15h1v1h-1zM30 15h3v1h-3zM27 16h1v1h-1zM30 16h3v1h-3zM27 17h1v1h-1zM30 17h3v1h-3zM23 18h1v1h-1zM31 18h2v1h-2zM2 19h1v1h-1zM10 19h1v1h-1zM31 19h2v1h-2zM2 20h1v1h-1zM9 20h1v1h-1zM31 20h2v1h-2zM0 21h1v1h-1zM2 21h1v1h-1zM18 21h1v1h-1zM24 21h1v1h-1zM30 21h1v1h-1zM32 21h1v1h-1zM0 22h1v1h-1zM2 22h1v1h-1zM18 22h1v1h-1zM29 22h1v1h-1zM1 23h1v1h-1zM3 24h1v1h-1zM23 24h1v1h-1zM2 25h1v1h-1zM18 26h1v1h-1zM18 27h1v1h-1zM22 27h1v1h-1zM1 28h1v1h-1zM8 30h3v1h-3z"/>
<path fill="rgb(119,119,119)" stroke="rgb(119,119,119)" stroke-width="0.04" d="M30 0h2v1h-2zM30 1h2v1h-2zM31 2h1v1h-1zM31 3h1v1h-1zM15 4h3v1h-3zM31 4h1v1h-1zM31 5h1v1h-1zM31 6h1v1h-1zM31 7h1v1h-1zM31 8h1v1h-1zM30 9h2v1h-2zM14 10h1v1h-1zM18 10h1v1h-1zM30 10h2v1h-2zM14 11h1v1h-1zM18 11h1v1h-1zM30 11h2v1h-2zM15 12h1v1h-1zM30 12h2v1h-2zM11 14h1v1h-1zM13 14h1v1h-1zM22 14h1v1h-1zM18 15h1v1h-1zM11 16h1v1h-1zM19 16h1v1h-1zM22 16h1v1h-1zM11 17h1v1h-1zM11 18h1v1h-1zM0 19h2v1h-2zM23 19h2v1h-2zM0 20h2v1h-2zM18 20h1v1h-1zM23 20h2v1h-2zM1 21h1v1h-1zM8 21h1v1h-1zM31 21h1v1h-1zM1 22h1v1h-1zM7 22h1v1h-1zM30 22h1v1h-1zM32 22h1v1h-1zM5 23h1v1h-1zM18 23h1v1h-1zM29 23h1v1h-1zM4 24h1v1h-1zM18 24h1v1h-1zM24 24h1v1h-1zM27 24h2v1h-2zM3 25h1v1h-1zM18 25h1v1h-1zM2 26h1v1h-1zM17 26h1v1h-1zM2 27h1v1h-1zM17 27h1v1h-1zM18 28h1v1h-1zM1 29h1v1h-1zM8 29h4v1h-4zM7 30h1v1h-1zM11 30h1v1h-1zM0 31h1v1h-1zM7 31h4v1h-4z"/>
<path fill="rgb(136,136,136)" stroke="rgb(136,136,136)" stroke-width="0.04" d="M30 2h1v1h-1zM30 3h1v1h-1zM30 4h1v1h-1zM14 5h1v1h-1zM17 5h1v1h-1zM30 5h1v1h-1zM14 6h1v1h-1zM30 6h1v1h-1zM14 7h1v1h-1zM30 7h1v1h-1zM14 8h1v1h-1zM30 8h1v1h-1zM14 9h1v1h-1zM19 12h2v1h-2zM16 13h1v1h-1zM20 13h1v1h-1zM12 14h1v1h-1zM16 14h3v1h-3zM11 15h1v1h-1zM19 15h1v1h-1zM22 15h1v1h-1zM18 16h1v1h-1zM20 16h2v1h-2zM18 17h1v1h-1zM18 18h1v1h-1zM11 19h1v1h-1zM18 19h1v1h-1zM10 20h1v1h-1zM9 21h1v1h-1zM8 22h1v1h-1zM17 22h1v1h-1zM31 22h1v1h-1zM6 23h1v1h-1zM17 23h1v1h-1zM32 23h1v1h-1zM5 24h1v1h-1zM17 24h1v1h-1zM25 24h2v1h-2zM29 24h1v1h-1zM4 25h1v1h-1zM17 25h1v1h-1zM23 25h1v1h-1zM26 25h4v1h-4zM3 26h1v1h-1zM16 26h1v1h-1zM26 26h4v1h-4zM15 27h2v1h-2zM26 27h2v1h-2zM2 28h1v1h-1zM11 28h7v1h-7zM19 28h1v1h-1zM26 28h2v1h-2zM32 28h1v1h-1zM7 29h1v1h-1zM12 29h1v1h-1zM1 30h1v1h-1zM6 30h1v1h-1zM12 30h1v1h-1zM6 31h1v1h-1zM11 31h1v1h-1z"/>
<path fill="rgb(153,153,153)" stroke="rgb(153,153,153)" stroke-width="0.04" d="M15 5h2v1h-2zM17 6h1v1h-1zM17 7h1v1h-1zM17 8h1v1h-1zM17 9h1v1h-1zM15 10h1v1h-1zM17 10h1v1h-1zM15 11h1v1h-1zM17 11h1v1h-1zM16 12h1v1h-1zM18 12h1v1h-1zM17 13h3v1h-3zM19 14h3v1h-3zM12 15h6v1h-6zM20 15h2v1h-2zM12 16h1v1h-1zM12 17h1v1h-1zM12 18h1v1h-1zM12 19h1v1h-1zM11 20h2v1h-2zM10 21h3v1h-3zM17 21h1v1h-1zM9 22h4v1h-4zM16 22h1v1h-1zM7 23h5v1h-5zM16 23h1v1h-1zM30 23h2v1h-2zM6 24h2v1h-2zM16 24h1v1h-1zM32 24h1v1h-1zM5 25h2v1h-2zM16 25h1v1h-1zM24 25h2v1h-2zM32 25h1v1h-1zM4 26h1v1h-1zM14 26h2v1h-2zM23 26h3v1h-3zM32 26h1v1h-1zM3 27h1v1h-1zM11 27h4v1h-4zM23 27h3v1h-3zM28 27h1v1h-1zM32 27h1v1h-1zM9 28h2v1h-2zM20 28h3v1h-3zM25 28h1v1h-1zM28 28h1v1h-1zM30 28h2v1h-2zM2 29h1v1h-1zM13 29h6v1h-6zM24 29h2v1h-2zM32 29h1v1h-1zM2 30h1v1h-1zM5 30h1v1h-1zM13 30h5v1h-5zM23 30h2v1h-2zM1 31h1v1h-1zM5 31h1v1h-1zM12 31h7v1h-7z"/>
<path fill="rgb(170,170,170)" stroke="rgb(170,170,170)" stroke-width="0.04" d="M15 6h2v1h-2zM15 7h2v1h-2zM15 8h2v1h-2zM15 9h2v1h-2zM16 10h1v1h-1zM16 11h1v1h-1zM17 12h1v1h-1zM13 16h1v1h-1zM15 16h3v1h-3zM15 17h3v1h-3zM13 18h2v1h-2zM13 19h2v1h-2zM13 20h2v1h-2zM17 20h1v1h-1zM13 21h2v1h-2zM16 21h1v1h-1zM13 22h3v1h-3zM12 23h4v1h-4zM8 24h8v1h-8zM30 24h2v1h-2zM7 25h5v1h-5zM13 25h3v1h-3zM30 25h2v1h-2zM5 26h9v1h-9zM30 26h2v1h-2zM4 27h2v1h-2zM9 27h2v1h-2zM29 27h3v1h-3zM3 28h1v1h-1zM8 28h1v1h-1zM23 28h2v1h-2zM29 28h1v1h-1zM6 29h1v1h-1zM19 29h1v1h-1zM23 29h1v1h-1zM26 29h1v1h-1zM3 30h2v1h-2zM18 30h1v1h-1zM22 30h1v1h-1zM25 30h1v1h-1zM2 31h3v1h-3zM19 31h6v1h-6z"/>
<path fill="rgb(187,187,187)" stroke="rgb(187,187,187)" stroke-width="0.04" d="M14 16h1v1h-1zM15 18h1v1h-1zM17 18h1v1h-1zM17 19h1v1h-1zM15 21h1v1h-1zM12 25h1v1h-1zM6 27h3v1h-3zM4 28h1v1h-1zM7 28h1v1h-1zM3 29h1v1h-1zM5 29h1v1h-1zM20 29h3v1h-3zM27 29h2v1h-2zM31 29h1v1h-1zM19 30h3v1h-3z"/>
<path fill="rgb(204,204,204)" stroke="rgb(204,204,204)" stroke-width="0.04" d="M13 17h2v1h-2zM16 18h1v1h-1zM15 19h1v1h-1zM15 20h2v1h-2zM5 28h2v1h-2zM4 29h1v1h-1zM29 29h2v1h-2zM26 30h1v1h-1zM32 30h1v1h-1zM0 32h1v1h-1z"/>
<path fill="rgb(221,221,221)" stroke="rgb(221,221,221)" stroke-width="0.04" d="M16 19h1v1h-1zM25 31h1v1h-1zM32 31h1v1h-1zM1 32h24v1h-24z"/>
<path fill="rgb(238,238,238)" stroke="rgb(238,238,238)" stroke-width="0.04" d="M27 30h1v1h-1zM31 30h1v1h-1zM32 32h1v1h-1z"/>
<path fill="rgb(255,255,255)" stroke="rgb(255,255,255)" stroke-width="0.04" d="M28 30h3v1h-3zM26 31h6v1h-6zM25 32h7v1h-7z"/>
</g></svg>
<rect x="496.3" y="902.1" width="195.99999999999994" height="194.19999999999993" fill="none" stroke="#3a3a3a" stroke-width="1"/>
<text x="484.9" y="906.8" font-size="20" fill="#2e2e2e" text-anchor="end">0</text>
<text x="484.9" y="965.8" font-size="20" fill="#2e2e2e" text-anchor="end">10</text>
<text x="484.9" y="1025.0" font-size="20" fill="#2e2e2e" text-anchor="end">20</text>
<text x="484.9" y="1084.0" font-size="20" fill="#2e2e2e" text-anchor="end">30</text>
<text x="498.1" y="1123.5" font-size="20" fill="#2e2e2e" text-anchor="middle">0</text>
<text x="557.7" y="1123.5" font-size="20" fill="#2e2e2e" text-anchor="middle">10</text>
<text x="614.2" y="1123.5" font-size="20" fill="#2e2e2e" text-anchor="middle">20</text>
<text x="672.8" y="1123.5" font-size="20" fill="#2e2e2e" text-anchor="middle">30</text>
<linearGradient id="gj" x1="0" y1="1" x2="0" y2="0"><stop offset="0" stop-color="#4c4c4c"/><stop offset="1" stop-color="#fff"/></linearGradient>
<rect x="696.4" y="902.1" width="17.300000000000068" height="194.19999999999993" fill="url(#gj)" stroke="#3a3a3a" stroke-width="1"/>
<text x="720.7" y="906.4" font-size="19" fill="#2e2e2e">0.65</text>
<text x="720.7" y="965.4" font-size="19" fill="#2e2e2e">0.6</text>
<text x="720.7" y="1023.6" font-size="19" fill="#2e2e2e">0.55</text>
<text x="720.7" y="1082.5" font-size="19" fill="#2e2e2e">0.5</text>
<text x="783.5" y="1005.5" font-size="21.3" fill="#2e2e2e" text-anchor="middle" transform="rotate(-90 783.5 1005.5)" textLength="78" lengthAdjust="spacingAndGlyphs">Vout (V)</text>
<filter id="bl" x="-6" y="-6" width="45" height="45" filterUnits="userSpaceOnUse"><feGaussianBlur stdDeviation="0.25"/></filter>
<svg x="837.5" y="905.3" width="188.29999999999995" height="187.10000000000014" viewBox="0 0 33 33" preserveAspectRatio="none" overflow="hidden"><g filter="url(#bl)">
<rect x="-5" y="-5" width="43" height="43" fill="rgb(76,76,76)"/>
<path fill="rgb(85,85,85)" stroke="rgb(85,85,85)" stroke-width="0.04" d="M30 0h1v1h-1zM32 0h1v1h-1zM30 11h1v1h-1zM32 11h1v1h-1zM30 12h1v1h-1zM32 12h1v1h-1zM30 21h1v1h-1zM0 30h1v1h-1zM0 31h1v1h-1zM0 32h1v1h-1zM32 32h1v1h-1z"/>
<path fill="rgb(102,102,102)" stroke="rgb(102,102,102)" stroke-width="0.04" d="M31 0h1v1h-1zM32 1h1v1h-1zM32 2h1v1h-1zM32 3h1v1h-1zM32 4h1v1h-1zM32 5h1v1h-1zM32 6h1v1h-1zM32 7h1v1h-1zM32 8h1v1h-1zM30 9h1v1h-1zM32 9h1v1h-1zM30 10h1v1h-1zM32 10h1v1h-1zM31 11h1v1h-1zM31 12h1v1h-1zM26 14h1v1h-1zM27 17h2v1h-2zM28 18h1v1h-1zM32 18h1v1h-1zM32 19h1v1h-1zM22 20h1v1h-1zM24 20h1v1h-1zM10 21h1v1h-1zM31 21h2v1h-2zM1 22h2v1h-2zM8 22h1v1h-1zM29 22h1v1h-1zM7 23h1v1h-1zM18 25h1v1h-1zM2 26h1v1h-1zM18 26h1v1h-1zM1 27h1v1h-1zM16 27h3v1h-3zM21 27h1v1h-1zM16 28h1v1h-1zM1 31h1v1h-1zM32 31h1v1h-1zM1 32h10v1h-10zM31 32h1v1h-1z"/>
<path fill="rgb(119,119,119)" stroke="rgb(119,119,119)" stroke-width="0.04" d="M30 1h1v1h-1zM30 2h1v1h-1zM30 3h1v1h-1zM15 4h1v1h-1zM30 4h1v1h-1zM14 5h1v1h-1zM30 5h1v1h-1zM14 6h1v1h-1zM30 6h1v1h-1zM14 7h1v1h-1zM30 7h1v1h-1zM30 8h1v1h-1zM31 9h1v1h-1zM31 10h1v1h-1zM25 11h1v1h-1zM25 12h1v1h-1zM21 13h1v1h-1zM26 13h1v1h-1zM12 14h1v1h-1zM17 14h1v1h-1zM19 16h1v1h-1zM21 17h1v1h-1zM23 17h1v1h-1zM22 18h1v1h-1zM24 18h1v1h-1zM22 19h1v1h-1zM24 19h1v1h-1zM1 20h2v1h-2zM11 20h1v1h-1zM23 20h1v1h-1zM1 21h2v1h-2zM18 21h1v1h-1zM9 22h1v1h-1zM18 22h1v1h-1zM18 23h1v1h-1zM29 23h1v1h-1zM4 24h1v1h-1zM18 24h1v1h-1zM29 24h1v1h-1zM3 25h1v1h-1zM26 25h2v1h-2zM1 28h1v1h-1zM17 28h1v1h-1zM32 28h1v1h-1zM32 29h1v1h-1zM32 30h1v1h-1zM11 32h20v1h-20z"/>
<path fill="rgb(136,136,136)" stroke="rgb(136,136,136)" stroke-width="0.04" d="M16 4h1v1h-1zM13 8h1v1h-1zM17 8h1v1h-1zM13 9h1v1h-1zM17 9h1v1h-1zM13 10h1v1h-1zM17 10h1v1h-1zM14 11h1v1h-1zM18 11h1v1h-1zM15 12h1v1h-1zM19 12h1v1h-1zM16 13h1v1h-1zM12 15h1v1h-1zM18 15h1v1h-1zM22 15h1v1h-1zM12 16h1v1h-1zM18 16h1v1h-1zM22 16h1v1h-1zM12 17h1v1h-1zM22 17h1v1h-1zM12 18h1v1h-1zM23 18h1v1h-1zM12 19h1v1h-1zM23 19h1v1h-1zM18 20h1v1h-1zM11 21h1v1h-1zM10 22h1v1h-1zM30 22h1v1h-1zM32 22h1v1h-1zM8 23h1v1h-1zM32 23h1v1h-1zM5 24h1v1h-1zM22 24h1v1h-1zM25 24h1v1h-1zM17 25h1v1h-1zM28 25h1v1h-1zM3 26h1v1h-1zM17 26h1v1h-1zM26 26h2v1h-2zM2 27h1v1h-1zM15 27h1v1h-1zM26 27h2v1h-2zM15 28h1v1h-1zM18 28h1v1h-1zM26 28h1v1h-1zM1 29h1v1h-1zM16 29h1v1h-1zM1 30h1v1h-1zM12 31h2v1h-2zM25 31h1v1h-1z"/>
<path fill="rgb(153,153,153)" stroke="rgb(153,153,153)" stroke-width="0.04" d="M31 1h1v1h-1zM31 2h1v1h-1zM31 3h1v1h-1zM31 4h1v1h-1zM17 5h1v1h-1zM31 5h1v1h-1zM17 6h1v1h-1zM31 6h1v1h-1zM17 7h1v1h-1zM31 7h1v1h-1zM31 8h1v1h-1zM20 13h1v1h-1zM18 14h1v1h-1zM21 14h1v1h-1zM13 15h5v1h-5zM19 15h1v1h-1zM20 16h2v1h-2zM18 17h1v1h-1zM18 18h1v1h-1zM18 19h1v1h-1zM12 20h1v1h-1zM12 21h1v1h-1zM11 22h1v1h-1zM17 22h1v1h-1zM31 22h1v1h-1zM9 23h2v1h-2zM17 23h1v1h-1zM30 23h2v1h-2zM6 24h2v1h-2zM17 24h1v1h-1zM23 24h2v1h-2zM30 24h1v1h-1zM32 24h1v1h-1zM4 25h1v1h-1zM16 25h1v1h-1zM22 25h1v1h-1zM25 25h1v1h-1zM29 25h1v1h-1zM32 25h1v1h-1zM15 26h2v1h-2zM22 26h1v1h-1zM25 26h1v1h-1zM28 26h2v1h-2zM32 26h1v1h-1zM14 27h1v1h-1zM25 27h1v1h-1zM28 27h1v1h-1zM32 27h1v1h-1zM14 28h1v1h-1zM19 28h1v1h-1zM25 28h1v1h-1zM27 28h1v1h-1zM31 28h1v1h-1zM14 29h2v1h-2zM25 29h2v1h-2zM12 30h5v1h-5zM25 30h2v1h-2zM2 31h1v1h-1zM7 31h5v1h-5zM14 31h3v1h-3zM26 31h1v1h-1zM31 31h1v1h-1z"/>
<path fill="rgb(170,170,170)" stroke="rgb(170,170,170)" stroke-width="0.04" d="M15 5h1v1h-1zM15 6h1v1h-1zM15 7h1v1h-1zM17 11h1v1h-1zM16 12h1v1h-1zM18 12h1v1h-1zM17 13h1v1h-1zM19 14h1v1h-1zM20 15h2v1h-2zM13 16h2v1h-2zM17 16h1v1h-1zM13 17h2v1h-2zM13 18h2v1h-2zM13 19h1v1h-1zM13 20h1v1h-1zM13 21h1v1h-1zM17 21h1v1h-1zM12 22h2v1h-2zM16 22h1v1h-1zM11 23h2v1h-2zM15 23h2v1h-2zM8 24h3v1h-3zM15 24h2v1h-2zM31 24h1v1h-1zM5 25h4v1h-4zM14 25h2v1h-2zM23 25h2v1h-2zM30 25h2v1h-2zM4 26h1v1h-1zM14 26h1v1h-1zM24 26h1v1h-1zM30 26h2v1h-2zM3 27h1v1h-1zM13 27h1v1h-1zM22 27h1v1h-1zM24 27h1v1h-1zM29 27h3v1h-3zM2 28h1v1h-1zM13 28h1v1h-1zM20 28h5v1h-5zM12 29h2v1h-2zM17 29h1v1h-1zM31 29h1v1h-1zM10 30h2v1h-2zM31 30h1v1h-1zM6 31h1v1h-1zM17 31h1v1h-1zM24 31h1v1h-1z"/>
<path fill="rgb(187,187,187)" stroke="rgb(187,187,187)" stroke-width="0.04" d="M16 5h1v1h-1zM16 6h1v1h-1zM16 7h1v1h-1zM16 8h1v1h-1zM16 9h1v1h-1zM16 10h1v1h-1zM15 11h2v1h-2zM17 12h1v1h-1zM18 13h2v1h-2zM20 14h1v1h-1zM15 16h2v1h-2zM15 17h1v1h-1zM17 17h1v1h-1zM14 19h1v1h-1zM14 20h1v1h-1zM14 21h1v1h-1zM14 22h2v1h-2zM13 23h2v1h-2zM11 24h4v1h-4zM9 25h5v1h-5zM5 26h5v1h-5zM12 26h2v1h-2zM23 26h1v1h-1zM4 27h1v1h-1zM8 27h2v1h-2zM12 27h1v1h-1zM23 27h1v1h-1zM3 28h1v1h-1zM12 28h1v1h-1zM28 28h1v1h-1zM30 28h1v1h-1zM2 29h1v1h-1zM9 29h3v1h-3zM24 29h1v1h-1zM27 29h1v1h-1zM7 30h3v1h-3zM17 30h1v1h-1zM24 30h1v1h-1zM3 31h1v1h-1zM5 31h1v1h-1zM23 31h1v1h-1zM27 31h1v1h-1z"/>
<path fill="rgb(204,204,204)" stroke="rgb(204,204,204)" stroke-width="0.04" d="M14 8h2v1h-2zM14 9h2v1h-2zM14 10h2v1h-2zM16 17h1v1h-1zM15 18h1v1h-1zM17 18h1v1h-1zM15 19h1v1h-1zM15 20h1v1h-1zM17 20h1v1h-1zM15 21h2v1h-2zM10 26h2v1h-2zM5 27h3v1h-3zM10 27h2v1h-2zM4 28h1v1h-1zM9 28h3v1h-3zM29 28h1v1h-1zM3 29h1v1h-1zM6 29h3v1h-3zM18 29h1v1h-1zM2 30h1v1h-1zM6 30h1v1h-1zM27 30h1v1h-1zM4 31h1v1h-1zM18 31h1v1h-1zM22 31h1v1h-1z"/>
<path fill="rgb(221,221,221)" stroke="rgb(221,221,221)" stroke-width="0.04" d="M16 18h1v1h-1zM17 19h1v1h-1zM16 20h1v1h-1zM5 28h4v1h-4zM4 29h2v1h-2zM19 29h1v1h-1zM23 29h1v1h-1zM30 29h1v1h-1zM3 30h1v1h-1zM5 30h1v1h-1zM18 30h1v1h-1zM23 30h1v1h-1zM19 31h1v1h-1zM21 31h1v1h-1zM30 31h1v1h-1z"/>
<path fill="rgb(238,238,238)" stroke="rgb(238,238,238)" stroke-width="0.04" d="M16 19h1v1h-1zM20 29h3v1h-3zM28 29h1v1h-1zM4 30h1v1h-1zM22 30h1v1h-1zM30 30h1v1h-1zM20 31h1v1h-1zM28 31h1v1h-1z"/>
<path fill="rgb(255,255,255)" stroke="rgb(255,255,255)" stroke-width="0.04" d="M29 29h1v1h-1zM19 30h3v1h-3zM28 30h2v1h-2zM29 31h1v1h-1z"/>
</g></svg>
<rect x="837.5" y="905.3" width="188.29999999999995" height="187.10000000000014" fill="none" stroke="#3a3a3a" stroke-width="1"/>
<text x="831.5" y="923.9" font-size="18.5" fill="#2e2e2e" text-anchor="end">0</text>
<text x="831.5" y="976.6" font-size="18.5" fill="#2e2e2e" text-anchor="end">10</text>
<text x="831.5" y="1032.8" font-size="18.5" fill="#2e2e2e" text-anchor="end">20</text>
<text x="831.5" y="1088.0" font-size="18.5" fill="#2e2e2e" text-anchor="end">30</text>
<text x="842.6" y="1114.2" font-size="18.5" fill="#2e2e2e" text-anchor="middle">0</text>
<text x="897.8" y="1114.2" font-size="18.5" fill="#2e2e2e" text-anchor="middle">10</text>
<text x="954" y="1114.2" font-size="18.5" fill="#2e2e2e" text-anchor="middle">20</text>
<text x="1008.9" y="1114.2" font-size="18.5" fill="#2e2e2e" text-anchor="middle">30</text>
<linearGradient id="gl" x1="0" y1="1" x2="0" y2="0"><stop offset="0" stop-color="#4c4c4c"/><stop offset="1" stop-color="#fff"/></linearGradient>
<rect x="1031.9" y="905.3" width="16.399999999999864" height="187.10000000000014" fill="url(#gl)" stroke="#3a3a3a" stroke-width="1"/>
<text x="1055.6" y="944.1" font-size="17.5" fill="#2e2e2e">1.5</text>
<text x="1055.6" y="994.0" font-size="17.5" fill="#2e2e2e">1</text>
<text x="1055.6" y="1044.5" font-size="17.5" fill="#2e2e2e">0.5</text>
<text x="1055.6" y="1094.6" font-size="17.5" fill="#2e2e2e">0</text>
<text x="1068.2" y="912.5" font-size="17.5" fill="#2e2e2e">x10</text>
<text x="1095" y="905" font-size="9" fill="#2e2e2e">-10</text>
<text x="1121.5" y="1004" font-size="20.8" fill="#2e2e2e" text-anchor="middle" transform="rotate(-90 1121.5 1004)" textLength="104.2" lengthAdjust="spacingAndGlyphs">Pixel Value</text>
<rect x="568.4" y="80.4" width="30.8" height="30.8" fill="none" stroke="#d02a30" stroke-width="2"/>
<text x="583.8" y="104.0" font-size="23" fill="#fff" text-anchor="middle" font-weight="bold">1</text>
<rect x="599.2" y="118.7" width="30.4" height="30.4" fill="none" stroke="#d02a30" stroke-width="2"/>
<text x="614.4" y="142.1" font-size="23" fill="#fff" text-anchor="middle" font-weight="bold">4</text>
<rect x="526.4" y="159.7" width="29.9" height="30.5" fill="none" stroke="#d02a30" stroke-width="2"/>
<text x="541.3" y="183.1" font-size="23" fill="#fff" text-anchor="middle" font-weight="bold">2</text>
<rect x="604.8" y="171.9" width="29.9" height="29.8" fill="none" stroke="#d02a30" stroke-width="2"/>
<text x="619.8" y="195.0" font-size="23" fill="#fff" text-anchor="middle" font-weight="bold">3</text>
<rect x="537.4" y="652.2" width="31.7" height="31.6" fill="none" stroke="#d02a30" stroke-width="2"/>
<text x="553.2" y="676.2" font-size="23" fill="#fff" text-anchor="middle" font-weight="bold">1</text>
<rect x="624.8" y="720.2" width="31.9" height="31.3" fill="none" stroke="#d02a30" stroke-width="2"/>
<text x="640.8" y="744.1" font-size="23" fill="#fff" text-anchor="middle" font-weight="bold">4</text>
<rect x="556.4" y="752.5" width="30.7" height="31.1" fill="none" stroke="#d02a30" stroke-width="2"/>
<text x="571.8" y="776.2" font-size="23" fill="#fff" text-anchor="middle" font-weight="bold">2</text>
<rect x="624.2" y="758.7" width="30.5" height="31.3" fill="none" stroke="#d02a30" stroke-width="2"/>
<text x="639.5" y="782.6" font-size="23" fill="#fff" text-anchor="middle" font-weight="bold">3</text>
</g></svg></body></html>
